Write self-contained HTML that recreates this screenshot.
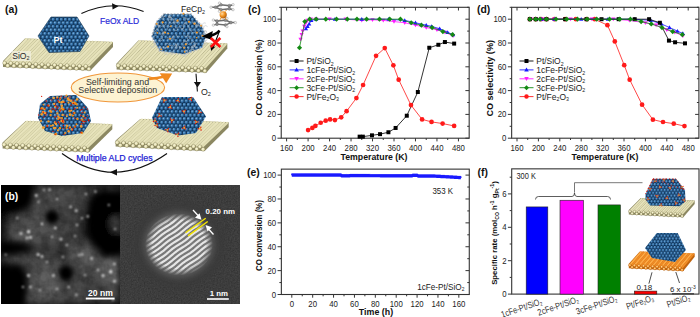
<!DOCTYPE html>
<html><head><meta charset="utf-8"><style>
html,body{margin:0;padding:0;background:#fff;}
body{width:700px;height:317px;overflow:hidden;}
svg{display:block;font-family:"Liberation Sans",sans-serif;}
</style></head><body>
<svg width="700" height="317" viewBox="0 0 700 317">
<defs>
<radialGradient id="gsph" cx="0.35" cy="0.35" r="0.7">
 <stop offset="0" stop-color="#a0cdf0"/><stop offset="0.35" stop-color="#3f80ba"/><stop offset="0.8" stop-color="#1d4f80"/><stop offset="1" stop-color="#0f3055"/>
</radialGradient>
<pattern id="psph" patternUnits="userSpaceOnUse" width="4.1" height="7.1">
 <rect width="4.1" height="7.1" fill="#0c2640"/>
 <circle cx="2.05" cy="1.78" r="1.95" fill="url(#gsph)"/>
 <circle cx="0" cy="5.33" r="1.95" fill="url(#gsph)"/>
 <circle cx="4.1" cy="5.33" r="1.95" fill="url(#gsph)"/>
</pattern>
<pattern id="psph2" patternUnits="userSpaceOnUse" width="3.3" height="5.72">
 <rect width="3.3" height="5.72" fill="#0c2640"/>
 <circle cx="1.65" cy="1.43" r="1.55" fill="url(#gsph)"/>
 <circle cx="0" cy="4.29" r="1.55" fill="url(#gsph)"/>
 <circle cx="3.3" cy="4.29" r="1.55" fill="url(#gsph)"/>
</pattern>
<radialGradient id="grod" cx="0.4" cy="0.4" r="0.7">
 <stop offset="0" stop-color="#fbf8dc"/><stop offset="0.6" stop-color="#e4dfb0"/><stop offset="1" stop-color="#a9a376"/>
</radialGradient>
<radialGradient id="grodo" cx="0.4" cy="0.4" r="0.7">
 <stop offset="0" stop-color="#ffe0a8"/><stop offset="0.6" stop-color="#ffa23a"/><stop offset="1" stop-color="#c06a14"/>
</radialGradient>
<radialGradient id="gfe" cx="0.35" cy="0.35" r="0.7">
 <stop offset="0" stop-color="#ffd9a0"/><stop offset="0.5" stop-color="#f3931e"/><stop offset="1" stop-color="#a85a10"/>
</radialGradient>
<marker id="ahR" viewBox="0 0 10 10" refX="5" refY="5" markerWidth="6" markerHeight="6" orient="auto"><path d="M0 0L10 5L0 10Z" fill="#111"/></marker>

<filter id="blur3" x="-30%" y="-30%" width="160%" height="160%"><feGaussianBlur stdDeviation="3"/></filter>
<filter id="blur4" x="-10%" y="-10%" width="120%" height="120%"><feGaussianBlur stdDeviation="4.2"/></filter>
<filter id="blur1" x="-50%" y="-50%" width="200%" height="200%"><feGaussianBlur stdDeviation="0.85"/></filter>
<filter id="blur2" x="-30%" y="-30%" width="160%" height="160%"><feGaussianBlur stdDeviation="2"/></filter>
<filter id="noise" x="0" y="0" width="100%" height="100%">
 <feTurbulence type="fractalNoise" baseFrequency="0.7" numOctaves="2" seed="4" result="t"/>
 <feColorMatrix type="matrix" values="0 0 0 0 0.5  0 0 0 0 0.5  0 0 0 0 0.5  0.6 0 0 0 0" in="t" result="n"/>
 <feComposite in="n" in2="SourceGraphic" operator="in"/>
</filter>
<clipPath id="cbL"><rect x="1" y="185" width="119" height="119"/></clipPath>
<clipPath id="cbR"><rect x="120" y="185" width="120" height="119"/></clipPath>
<radialGradient id="gmask" cx="0.5" cy="0.5" r="0.5">
 <stop offset="0" stop-color="#fff"/><stop offset="0.78" stop-color="#fff"/><stop offset="1" stop-color="#000"/>
</radialGradient>
<mask id="mpart" maskUnits="userSpaceOnUse" x="130" y="200" width="100" height="100"><ellipse cx="179" cy="244.5" rx="34" ry="31" fill="url(#gmask)"/></mask>
<filter id="blurp" x="-20%" y="-20%" width="140%" height="140%"><feGaussianBlur stdDeviation="0.75"/></filter>
<filter id="tex" x="0" y="0" width="100%" height="100%">
 <feTurbulence type="fractalNoise" baseFrequency="0.12" numOctaves="3" seed="9" result="t"/>
 <feColorMatrix type="matrix" values="0 0 0 0 0  0 0 0 0 0  0 0 0 0 0  0 0 0 -1.1 0.75" in="t" result="n"/>
 <feComposite in="n" in2="SourceGraphic" operator="in"/>
</filter>
</defs>
<text x="5" y="13.2" font-size="10.4" font-weight="bold" fill="#111">(a)</text>
<polygon points="25,38.5 113,42 113,47 90.5,70.5 3,67 3,61" fill="#8c8862"/>
<path d="M7.69 62.19L29.71 39.29 M13.94 62.44L36 39.54 M20.19 62.69L42.29 39.79 M26.44 62.94L48.57 40.04 M32.69 63.19L54.86 40.29 M38.94 63.44L61.14 40.54 M45.19 63.69L67.43 40.79 M51.44 63.94L73.71 41.04 M57.69 64.19L80 41.29 M63.94 64.44L86.29 41.54 M70.19 64.69L92.57 41.79 M76.44 64.94L98.86 42.04 M82.69 65.19L105.14 42.29 M88.94 65.44L111.43 42.54" stroke="#e2deb4" stroke-width="2.28" stroke-linecap="round" fill="none"/>
<path d="M4.56 62.06L26.57 39.16 M10.81 62.31L32.86 39.41 M17.06 62.56L39.14 39.66 M23.31 62.81L45.43 39.91 M29.56 63.06L51.71 40.16 M35.81 63.31L58 40.41 M42.06 63.56L64.29 40.66 M48.31 63.81L70.57 40.91 M54.56 64.06L76.86 41.16 M60.81 64.31L83.14 41.41 M67.06 64.56L89.43 41.66 M73.31 64.81L95.71 41.91 M79.56 65.06L102 42.16 M85.81 65.31L108.29 42.41" stroke="#e8e4bc" stroke-width="2.4" stroke-linecap="round" fill="none"/>
<circle cx="4.56" cy="63.01" r="1.95" fill="url(#grod)" stroke="#6f6a48" stroke-width="0.3"/><circle cx="7.69" cy="65.63" r="1.99" fill="url(#grod)" stroke="#6f6a48" stroke-width="0.3"/><circle cx="10.81" cy="63.26" r="1.95" fill="url(#grod)" stroke="#6f6a48" stroke-width="0.3"/><circle cx="13.94" cy="65.88" r="1.99" fill="url(#grod)" stroke="#6f6a48" stroke-width="0.3"/><circle cx="17.06" cy="63.51" r="1.95" fill="url(#grod)" stroke="#6f6a48" stroke-width="0.3"/><circle cx="20.19" cy="66.13" r="1.99" fill="url(#grod)" stroke="#6f6a48" stroke-width="0.3"/><circle cx="23.31" cy="63.76" r="1.95" fill="url(#grod)" stroke="#6f6a48" stroke-width="0.3"/><circle cx="26.44" cy="66.38" r="1.99" fill="url(#grod)" stroke="#6f6a48" stroke-width="0.3"/><circle cx="29.56" cy="64.01" r="1.95" fill="url(#grod)" stroke="#6f6a48" stroke-width="0.3"/><circle cx="32.69" cy="66.63" r="1.99" fill="url(#grod)" stroke="#6f6a48" stroke-width="0.3"/><circle cx="35.81" cy="64.26" r="1.95" fill="url(#grod)" stroke="#6f6a48" stroke-width="0.3"/><circle cx="38.94" cy="66.88" r="1.99" fill="url(#grod)" stroke="#6f6a48" stroke-width="0.3"/><circle cx="42.06" cy="64.51" r="1.95" fill="url(#grod)" stroke="#6f6a48" stroke-width="0.3"/><circle cx="45.19" cy="67.13" r="1.99" fill="url(#grod)" stroke="#6f6a48" stroke-width="0.3"/><circle cx="48.31" cy="64.76" r="1.95" fill="url(#grod)" stroke="#6f6a48" stroke-width="0.3"/><circle cx="51.44" cy="67.38" r="1.99" fill="url(#grod)" stroke="#6f6a48" stroke-width="0.3"/><circle cx="54.56" cy="65.01" r="1.95" fill="url(#grod)" stroke="#6f6a48" stroke-width="0.3"/><circle cx="57.69" cy="67.63" r="1.99" fill="url(#grod)" stroke="#6f6a48" stroke-width="0.3"/><circle cx="60.81" cy="65.26" r="1.95" fill="url(#grod)" stroke="#6f6a48" stroke-width="0.3"/><circle cx="63.94" cy="67.88" r="1.99" fill="url(#grod)" stroke="#6f6a48" stroke-width="0.3"/><circle cx="67.06" cy="65.51" r="1.95" fill="url(#grod)" stroke="#6f6a48" stroke-width="0.3"/><circle cx="70.19" cy="68.13" r="1.99" fill="url(#grod)" stroke="#6f6a48" stroke-width="0.3"/><circle cx="73.31" cy="65.76" r="1.95" fill="url(#grod)" stroke="#6f6a48" stroke-width="0.3"/><circle cx="76.44" cy="68.38" r="1.99" fill="url(#grod)" stroke="#6f6a48" stroke-width="0.3"/><circle cx="79.56" cy="66.01" r="1.95" fill="url(#grod)" stroke="#6f6a48" stroke-width="0.3"/><circle cx="82.69" cy="68.63" r="1.99" fill="url(#grod)" stroke="#6f6a48" stroke-width="0.3"/><circle cx="85.81" cy="66.26" r="1.95" fill="url(#grod)" stroke="#6f6a48" stroke-width="0.3"/><circle cx="88.94" cy="68.88" r="1.99" fill="url(#grod)" stroke="#6f6a48" stroke-width="0.3"/>
<polygon points="138.4,40.4 227.3,43.6 227.3,48.6 206.5,72.5 116.6,69.5 116.6,63.5" fill="#8c8862"/>
<path d="M121.42 64.66L143.16 41.17 M127.84 64.88L149.51 41.4 M134.26 65.09L155.86 41.63 M140.68 65.3L162.21 41.86 M147.1 65.52L168.56 42.09 M153.52 65.73L174.91 42.31 M159.94 65.95L181.26 42.54 M166.37 66.16L187.61 42.77 M172.79 66.38L193.96 43 M179.21 66.59L200.31 43.23 M185.63 66.8L206.66 43.46 M192.05 67.02L213.01 43.69 M198.47 67.23L219.36 43.91 M204.89 67.45L225.71 44.14" stroke="#e2deb4" stroke-width="2.28" stroke-linecap="round" fill="none"/>
<path d="M118.21 64.55L139.99 41.06 M124.63 64.77L146.34 41.29 M131.05 64.98L152.69 41.51 M137.47 65.2L159.04 41.74 M143.89 65.41L165.39 41.97 M150.31 65.62L171.74 42.2 M156.73 65.84L178.09 42.43 M163.16 66.05L184.44 42.66 M169.58 66.27L190.79 42.89 M176 66.48L197.14 43.11 M182.42 66.7L203.49 43.34 M188.84 66.91L209.84 43.57 M195.26 67.12L216.19 43.8 M201.68 67.34L222.54 44.03" stroke="#e8e4bc" stroke-width="2.4" stroke-linecap="round" fill="none"/>
<circle cx="118.21" cy="65.5" r="1.95" fill="url(#grod)" stroke="#6f6a48" stroke-width="0.3"/><circle cx="121.42" cy="68.1" r="1.99" fill="url(#grod)" stroke="#6f6a48" stroke-width="0.3"/><circle cx="124.63" cy="65.72" r="1.95" fill="url(#grod)" stroke="#6f6a48" stroke-width="0.3"/><circle cx="127.84" cy="68.31" r="1.99" fill="url(#grod)" stroke="#6f6a48" stroke-width="0.3"/><circle cx="131.05" cy="65.93" r="1.95" fill="url(#grod)" stroke="#6f6a48" stroke-width="0.3"/><circle cx="134.26" cy="68.53" r="1.99" fill="url(#grod)" stroke="#6f6a48" stroke-width="0.3"/><circle cx="137.47" cy="66.15" r="1.95" fill="url(#grod)" stroke="#6f6a48" stroke-width="0.3"/><circle cx="140.68" cy="68.74" r="1.99" fill="url(#grod)" stroke="#6f6a48" stroke-width="0.3"/><circle cx="143.89" cy="66.36" r="1.95" fill="url(#grod)" stroke="#6f6a48" stroke-width="0.3"/><circle cx="147.1" cy="68.96" r="1.99" fill="url(#grod)" stroke="#6f6a48" stroke-width="0.3"/><circle cx="150.31" cy="66.58" r="1.95" fill="url(#grod)" stroke="#6f6a48" stroke-width="0.3"/><circle cx="153.52" cy="69.17" r="1.99" fill="url(#grod)" stroke="#6f6a48" stroke-width="0.3"/><circle cx="156.73" cy="66.79" r="1.95" fill="url(#grod)" stroke="#6f6a48" stroke-width="0.3"/><circle cx="159.94" cy="69.39" r="1.99" fill="url(#grod)" stroke="#6f6a48" stroke-width="0.3"/><circle cx="163.16" cy="67" r="1.95" fill="url(#grod)" stroke="#6f6a48" stroke-width="0.3"/><circle cx="166.37" cy="69.6" r="1.99" fill="url(#grod)" stroke="#6f6a48" stroke-width="0.3"/><circle cx="169.58" cy="67.22" r="1.95" fill="url(#grod)" stroke="#6f6a48" stroke-width="0.3"/><circle cx="172.79" cy="69.81" r="1.99" fill="url(#grod)" stroke="#6f6a48" stroke-width="0.3"/><circle cx="176" cy="67.43" r="1.95" fill="url(#grod)" stroke="#6f6a48" stroke-width="0.3"/><circle cx="179.21" cy="70.03" r="1.99" fill="url(#grod)" stroke="#6f6a48" stroke-width="0.3"/><circle cx="182.42" cy="67.65" r="1.95" fill="url(#grod)" stroke="#6f6a48" stroke-width="0.3"/><circle cx="185.63" cy="70.24" r="1.99" fill="url(#grod)" stroke="#6f6a48" stroke-width="0.3"/><circle cx="188.84" cy="67.86" r="1.95" fill="url(#grod)" stroke="#6f6a48" stroke-width="0.3"/><circle cx="192.05" cy="70.46" r="1.99" fill="url(#grod)" stroke="#6f6a48" stroke-width="0.3"/><circle cx="195.26" cy="68.08" r="1.95" fill="url(#grod)" stroke="#6f6a48" stroke-width="0.3"/><circle cx="198.47" cy="70.67" r="1.99" fill="url(#grod)" stroke="#6f6a48" stroke-width="0.3"/><circle cx="201.68" cy="68.29" r="1.95" fill="url(#grod)" stroke="#6f6a48" stroke-width="0.3"/><circle cx="204.89" cy="70.89" r="1.99" fill="url(#grod)" stroke="#6f6a48" stroke-width="0.3"/>
<polygon points="25.7,121 112.3,124.3 112.3,129.3 89.1,152.1 2.6,148.6 2.6,142.6" fill="#8c8862"/>
<path d="M7.23 143.79L30.34 121.78 M13.41 144.04L36.52 122.01 M19.59 144.29L42.71 122.25 M25.77 144.54L48.9 122.48 M31.95 144.79L55.08 122.72 M38.13 145.04L61.27 122.96 M44.31 145.29L67.45 123.19 M50.48 145.54L73.64 123.43 M56.66 145.79L79.83 123.66 M62.84 146.04L86.01 123.9 M69.02 146.29L92.2 124.13 M75.2 146.54L98.38 124.37 M81.38 146.79L104.57 124.61 M87.56 147.04L110.75 124.84" stroke="#e2deb4" stroke-width="2.28" stroke-linecap="round" fill="none"/>
<path d="M4.14 143.66L27.25 121.66 M10.32 143.91L33.43 121.89 M16.5 144.16L39.62 122.13 M22.68 144.41L45.8 122.37 M28.86 144.66L51.99 122.6 M35.04 144.91L58.17 122.84 M41.22 145.16L64.36 123.07 M47.39 145.41L70.55 123.31 M53.57 145.66L76.73 123.54 M59.75 145.91L82.92 123.78 M65.93 146.16L89.1 124.02 M72.11 146.41L95.29 124.25 M78.29 146.66L101.47 124.49 M84.47 146.91L107.66 124.72" stroke="#e8e4bc" stroke-width="2.4" stroke-linecap="round" fill="none"/>
<circle cx="4.14" cy="144.61" r="1.95" fill="url(#grod)" stroke="#6f6a48" stroke-width="0.3"/><circle cx="7.23" cy="147.23" r="1.99" fill="url(#grod)" stroke="#6f6a48" stroke-width="0.3"/><circle cx="10.32" cy="144.86" r="1.95" fill="url(#grod)" stroke="#6f6a48" stroke-width="0.3"/><circle cx="13.41" cy="147.48" r="1.99" fill="url(#grod)" stroke="#6f6a48" stroke-width="0.3"/><circle cx="16.5" cy="145.11" r="1.95" fill="url(#grod)" stroke="#6f6a48" stroke-width="0.3"/><circle cx="19.59" cy="147.73" r="1.99" fill="url(#grod)" stroke="#6f6a48" stroke-width="0.3"/><circle cx="22.68" cy="145.36" r="1.95" fill="url(#grod)" stroke="#6f6a48" stroke-width="0.3"/><circle cx="25.77" cy="147.98" r="1.99" fill="url(#grod)" stroke="#6f6a48" stroke-width="0.3"/><circle cx="28.86" cy="145.61" r="1.95" fill="url(#grod)" stroke="#6f6a48" stroke-width="0.3"/><circle cx="31.95" cy="148.23" r="1.99" fill="url(#grod)" stroke="#6f6a48" stroke-width="0.3"/><circle cx="35.04" cy="145.86" r="1.95" fill="url(#grod)" stroke="#6f6a48" stroke-width="0.3"/><circle cx="38.13" cy="148.48" r="1.99" fill="url(#grod)" stroke="#6f6a48" stroke-width="0.3"/><circle cx="41.22" cy="146.11" r="1.95" fill="url(#grod)" stroke="#6f6a48" stroke-width="0.3"/><circle cx="44.31" cy="148.73" r="1.99" fill="url(#grod)" stroke="#6f6a48" stroke-width="0.3"/><circle cx="47.39" cy="146.36" r="1.95" fill="url(#grod)" stroke="#6f6a48" stroke-width="0.3"/><circle cx="50.48" cy="148.98" r="1.99" fill="url(#grod)" stroke="#6f6a48" stroke-width="0.3"/><circle cx="53.57" cy="146.61" r="1.95" fill="url(#grod)" stroke="#6f6a48" stroke-width="0.3"/><circle cx="56.66" cy="149.23" r="1.99" fill="url(#grod)" stroke="#6f6a48" stroke-width="0.3"/><circle cx="59.75" cy="146.86" r="1.95" fill="url(#grod)" stroke="#6f6a48" stroke-width="0.3"/><circle cx="62.84" cy="149.48" r="1.99" fill="url(#grod)" stroke="#6f6a48" stroke-width="0.3"/><circle cx="65.93" cy="147.11" r="1.95" fill="url(#grod)" stroke="#6f6a48" stroke-width="0.3"/><circle cx="69.02" cy="149.73" r="1.99" fill="url(#grod)" stroke="#6f6a48" stroke-width="0.3"/><circle cx="72.11" cy="147.36" r="1.95" fill="url(#grod)" stroke="#6f6a48" stroke-width="0.3"/><circle cx="75.2" cy="149.98" r="1.99" fill="url(#grod)" stroke="#6f6a48" stroke-width="0.3"/><circle cx="78.29" cy="147.61" r="1.95" fill="url(#grod)" stroke="#6f6a48" stroke-width="0.3"/><circle cx="81.38" cy="150.23" r="1.99" fill="url(#grod)" stroke="#6f6a48" stroke-width="0.3"/><circle cx="84.47" cy="147.86" r="1.95" fill="url(#grod)" stroke="#6f6a48" stroke-width="0.3"/><circle cx="87.56" cy="150.48" r="1.99" fill="url(#grod)" stroke="#6f6a48" stroke-width="0.3"/>
<polygon points="140.3,119 228.7,122.3 228.7,127.3 204.7,151 115.6,146.5 115.6,140.5" fill="#8c8862"/>
<path d="M120.37 141.74L145.04 119.78 M126.74 142.06L151.35 120.01 M133.1 142.38L157.66 120.25 M139.47 142.71L163.98 120.48 M145.83 143.03L170.29 120.72 M152.19 143.35L176.61 120.96 M158.56 143.67L182.92 121.19 M164.92 143.99L189.24 121.43 M171.29 144.31L195.55 121.66 M177.65 144.63L201.86 121.9 M184.02 144.96L208.18 122.13 M190.38 145.28L214.49 122.37 M196.74 145.6L220.81 122.61 M203.11 145.92L227.12 122.84" stroke="#e2deb4" stroke-width="2.28" stroke-linecap="round" fill="none"/>
<path d="M117.19 141.58L141.88 119.66 M123.56 141.9L148.19 119.89 M129.92 142.22L154.51 120.13 M136.28 142.54L160.82 120.37 M142.65 142.87L167.14 120.6 M149.01 143.19L173.45 120.84 M155.38 143.51L179.76 121.07 M161.74 143.83L186.08 121.31 M168.11 144.15L192.39 121.54 M174.47 144.47L198.71 121.78 M180.83 144.79L205.02 122.02 M187.2 145.12L211.34 122.25 M193.56 145.44L217.65 122.49 M199.93 145.76L223.96 122.72" stroke="#e8e4bc" stroke-width="2.4" stroke-linecap="round" fill="none"/>
<circle cx="117.19" cy="142.53" r="1.95" fill="url(#grod)" stroke="#6f6a48" stroke-width="0.3"/><circle cx="120.37" cy="145.18" r="1.99" fill="url(#grod)" stroke="#6f6a48" stroke-width="0.3"/><circle cx="123.56" cy="142.85" r="1.95" fill="url(#grod)" stroke="#6f6a48" stroke-width="0.3"/><circle cx="126.74" cy="145.5" r="1.99" fill="url(#grod)" stroke="#6f6a48" stroke-width="0.3"/><circle cx="129.92" cy="143.17" r="1.95" fill="url(#grod)" stroke="#6f6a48" stroke-width="0.3"/><circle cx="133.1" cy="145.82" r="1.99" fill="url(#grod)" stroke="#6f6a48" stroke-width="0.3"/><circle cx="136.28" cy="143.49" r="1.95" fill="url(#grod)" stroke="#6f6a48" stroke-width="0.3"/><circle cx="139.47" cy="146.15" r="1.99" fill="url(#grod)" stroke="#6f6a48" stroke-width="0.3"/><circle cx="142.65" cy="143.82" r="1.95" fill="url(#grod)" stroke="#6f6a48" stroke-width="0.3"/><circle cx="145.83" cy="146.47" r="1.99" fill="url(#grod)" stroke="#6f6a48" stroke-width="0.3"/><circle cx="149.01" cy="144.14" r="1.95" fill="url(#grod)" stroke="#6f6a48" stroke-width="0.3"/><circle cx="152.19" cy="146.79" r="1.99" fill="url(#grod)" stroke="#6f6a48" stroke-width="0.3"/><circle cx="155.38" cy="144.46" r="1.95" fill="url(#grod)" stroke="#6f6a48" stroke-width="0.3"/><circle cx="158.56" cy="147.11" r="1.99" fill="url(#grod)" stroke="#6f6a48" stroke-width="0.3"/><circle cx="161.74" cy="144.78" r="1.95" fill="url(#grod)" stroke="#6f6a48" stroke-width="0.3"/><circle cx="164.92" cy="147.43" r="1.99" fill="url(#grod)" stroke="#6f6a48" stroke-width="0.3"/><circle cx="168.11" cy="145.1" r="1.95" fill="url(#grod)" stroke="#6f6a48" stroke-width="0.3"/><circle cx="171.29" cy="147.75" r="1.99" fill="url(#grod)" stroke="#6f6a48" stroke-width="0.3"/><circle cx="174.47" cy="145.42" r="1.95" fill="url(#grod)" stroke="#6f6a48" stroke-width="0.3"/><circle cx="177.65" cy="148.07" r="1.99" fill="url(#grod)" stroke="#6f6a48" stroke-width="0.3"/><circle cx="180.83" cy="145.74" r="1.95" fill="url(#grod)" stroke="#6f6a48" stroke-width="0.3"/><circle cx="184.02" cy="148.4" r="1.99" fill="url(#grod)" stroke="#6f6a48" stroke-width="0.3"/><circle cx="187.2" cy="146.07" r="1.95" fill="url(#grod)" stroke="#6f6a48" stroke-width="0.3"/><circle cx="190.38" cy="148.72" r="1.99" fill="url(#grod)" stroke="#6f6a48" stroke-width="0.3"/><circle cx="193.56" cy="146.39" r="1.95" fill="url(#grod)" stroke="#6f6a48" stroke-width="0.3"/><circle cx="196.74" cy="149.04" r="1.99" fill="url(#grod)" stroke="#6f6a48" stroke-width="0.3"/><circle cx="199.93" cy="146.71" r="1.95" fill="url(#grod)" stroke="#6f6a48" stroke-width="0.3"/><circle cx="203.11" cy="149.36" r="1.99" fill="url(#grod)" stroke="#6f6a48" stroke-width="0.3"/>
<rect x="11.5" y="51" width="19.5" height="10" fill="#f2f0e0" opacity="0.75"/>
<text x="12.2" y="58.6" font-size="8.6" fill="#2a2a2a">SiO<tspan font-size="5.4" dy="1.8">2</tspan></text>
<polygon points="51,17 77,17 89,36 80,51.5 49,52.5 38,36" fill="url(#psph)" />
<polygon points="51,17 77,17 89,36 80,51.5 49,52.5 38,36" fill="none" stroke="#12324f" stroke-width="0.6"/>
<text x="58" y="43" text-anchor="middle" font-size="9" font-weight="bold" fill="#fff">Pt</text>
<polygon points="164,14.3 191,14.3 201.8,26.5 206,36.4 201.8,47.5 184,54 160,50.8 152,36.4 156.6,22" fill="none" stroke="#b8bec6" stroke-width="2.2" stroke-dasharray="2 1.2" stroke-linejoin="round"/>
<polygon points="164,14.3 191,14.3 201.8,26.5 206,36.4 201.8,47.5 184,54 160,50.8 152,36.4 156.6,22" fill="url(#psph)" />
<path d="M164.33 35.86l-1.75 -1.33l0.29 -2.18l2.03 -0.84 M186.04 15.75l1.14 -1.88l2.2 0.06l1.04 1.94 M177.33 48.13l-1.42 -1.68l0.76 -2.07l2.17 -0.37 M154.59 44.85l-0.69 2.09l-2.16 0.44l-1.45 -1.65 M190.99 51.69l0.69 -2.09l2.15 -0.44l1.46 1.65 M175.43 39.32l-2.2 -0.1l-1.01 -1.95l1.19 -1.85 M183.72 50.98l1.98 -0.96l1.82 1.24l-0.18 2.19 M182.87 42.98l1.07 -1.92l2.2 -0.02l1.11 1.9 M183.12 24.97l1.33 -1.75l2.18 0.28l0.84 2.03 M195.83 30.24l-0.6 2.12l-2.13 0.54l-1.53 -1.58 M194.05 49.66l-1.66 -1.45l0.43 -2.16l2.09 -0.7 M153.52 43.17l1.61 -1.5l2.1 0.65l0.48 2.15 M168.34 16.23l2.16 0.43l0.7 2.09l-1.46 1.64 M162.05 30.13l1.22 1.83l-0.98 1.97l-2.2 0.13 M168.57 53.26l-1.58 1.53l-2.11 -0.61l-0.52 -2.14 M203.67 34.3l-0.41 -2.16l1.67 -1.43l2.07 0.73 M180.18 36.03l-1.89 1.12l-1.91 -1.09l-0.01 -2.2 M183.48 13.84l-1.49 -1.62l0.67 -2.1l2.15 -0.47 M154.36 39.35l-0.95 -1.98l1.25 -1.81l2.19 0.18 M188.86 53.46l-2.12 0.6l-1.57 -1.54l0.55 -2.13 M184.19 26.44l-0.84 2.03l-2.18 0.28l-1.33 -1.75 M171.67 38.02l-1.57 1.54l-2.12 -0.6l-0.53 -2.13 M182.88 43.88l0.38 2.17l-1.69 1.41l-2.06 -0.77 M196.01 23.03l-2.02 0.87l-1.76 -1.32l0.27 -2.18 M190.09 17.28l-1.1 1.9l-2.2 -0.01l-1.09 -1.91 M160.48 27.14l1.65 -1.46l2.09 0.7l0.43 2.16 M176.26 22.45l-2.16 -0.4l-0.73 -2.08l1.44 -1.66 M186.95 46.86l1.51 1.6l-0.64 2.11l-2.14 0.5 M167.35 46.34l-1.25 1.81l-2.19 -0.18l-0.93 -1.99 M188.13 34.8l-1.19 1.85l-2.2 -0.11l-1 -1.96 M201.38 37.23l-0.07 -2.2l1.87 -1.15l1.93 1.05 M160.62 25.6l-2.17 -0.34l-0.79 -2.05l1.39 -1.7 M174.17 52.44l-1.19 1.85l-2.2 -0.11l-0.99 -1.96 M165.14 49.19l0.44 -2.16l2.09 -0.69l1.64 1.47 M170.7 21.29l0.89 -2.01l2.19 -0.23l1.29 1.78 M196.14 47.59l-1.52 -1.59l0.62 -2.11l2.14 -0.51 M166.2 24.28l-1.95 1.03l-1.86 -1.18l0.1 -2.2 M177.48 45.61l2.07 0.74l0.39 2.17l-1.69 1.41 M179.12 26.27l-1.31 1.77l-2.19 -0.25l-0.87 -2.02 M187.23 37.64l0.8 2.05l-1.38 1.71l-2.17 -0.35 M169.41 18.2l-0.47 -2.15l1.63 -1.48l2.09 0.68 M172.29 16.36l-1.54 1.57l-2.13 -0.55l-0.58 -2.12 M184.85 45.87l0.69 -2.09l2.16 -0.44l1.46 1.65 M185.88 31.13l-2.2 0.06l-1.14 -1.88l1.06 -1.93 M176.81 23.29l-0.75 -2.07l1.42 -1.68l2.16 0.4 M155.01 30.85l1.6 -1.51l2.11 0.63l0.5 2.14 M195.29 24.01l1.57 1.54l-0.55 2.13l-2.12 0.58 M182.58 17.33l2.2 0.07l1.04 1.94l-1.17 1.86 M159.04 45.52l1.84 1.2l-0.12 2.2l-1.97 0.99 M204.34 37.32l2.14 0.5l0.64 2.11l-1.51 1.6 M154.42 26.62l1.03 -1.94l2.2 -0.07l1.16 1.87 M164.56 20.55l-1.64 -1.46l0.45 -2.15l2.09 -0.68 M193.2 29.54l-1.75 1.33l-2.03 -0.86l-0.27 -2.18 M170.62 30.57l-2.2 -0l-1.09 -1.91l1.11 -1.9 M205.49 30.34l1.17 1.86l-1.03 1.94l-2.2 0.07 M156.37 44.42l-2.19 -0.23l-0.89 -2.01l1.31 -1.77 M175.81 43.19l-0.24 2.19l-2.02 0.88l-1.77 -1.31 M162.15 37.6l0.25 2.19l-1.77 1.3l-2.01 -0.89 M189.7 53.04l-0.61 -2.11l1.53 -1.58l2.13 0.54 M174.14 48.85l-0.24 2.19l-2.01 0.88l-1.77 -1.31 M177.85 29.08l-1.41 1.69l-2.17 -0.38l-0.75 -2.07 M169.03 45.52l2.2 -0.13l1.2 1.84l-1 1.96 M197.74 47.51l-2.18 0.26l-1.31 -1.76l0.88 -2.02 M191.36 48.98l-0.23 -2.19l1.78 -1.29l2.01 0.9 M204.77 32.63l0.21 2.19l-1.79 1.27l-2 -0.92 M198.82 23.17l-0.12 2.2l-1.96 0.99l-1.84 -1.21 M201.39 23.71l-0.85 2.03l-2.18 0.27l-1.32 -1.76 M174.7 43.62l1.84 1.21l-0.13 2.2l-1.97 0.98 M197.7 25.25l-1.93 -1.06l-0.04 -2.2l1.89 -1.13 M172.89 35.86l-0.34 2.17l-2.05 0.79l-1.71 -1.39 M203.71 28.72l0.1 -2.2l1.95 -1.01l1.85 1.19 M204.83 41.26l1.67 1.44l-0.42 2.16l-2.08 0.71 M189 36.79l-1.34 -1.74l0.84 -2.03l2.18 -0.28 M158.92 26.92l-1.8 -1.26l0.2 -2.19l2 -0.92 M168.5 20.41l-0.47 -2.15l1.63 -1.48l2.09 0.68 M171.12 24.17l1.53 -1.58l2.13 0.54l0.6 2.12 M153.36 34.2l0.26 -2.19l2.02 -0.87l1.76 1.32 M170.83 26.98l-2.13 -0.56l-0.57 -2.13l1.56 -1.55 M157.28 24.36l1.67 1.43l-0.41 2.16l-2.08 0.72 M194.62 43.55l0.82 2.04l-1.36 1.73l-2.18 -0.32 M192.93 37.86l-1.77 1.31l-2.02 -0.88l-0.24 -2.19 M161.84 35.16l0.65 2.1l-1.5 1.61l-2.14 -0.5 M165.01 45.83l0.72 -2.08l2.16 -0.41l1.43 1.67 M186.48 54.03l-0.67 2.1l-2.15 0.46l-1.47 -1.64 M199.16 33.33l-0.32 -2.18l1.73 -1.36l2.04 0.82 M176.79 21.12l2.14 0.51l0.62 2.11l-1.52 1.59 M158.59 46.28l2.09 0.69l0.44 2.15l-1.65 1.46 M171.15 22.8l-2.14 -0.53l-0.6 -2.12l1.53 -1.58 M203.07 26.57l-0.75 -2.07l1.42 -1.68l2.16 0.39 M158.52 49.05l1.97 -0.98l1.83 1.22l-0.15 2.2 M191.09 44.07l0.76 -2.06l2.17 -0.37l1.4 1.7 M175.47 44.79l1.7 1.39l-0.36 2.17l-2.06 0.77 M162.22 19.75l-0.69 -2.09l1.47 -1.64l2.15 0.45 M191.3 28.41l-2.16 -0.4l-0.73 -2.08l1.44 -1.67 M184.4 22.4l0.56 2.13l-1.57 1.55l-2.12 -0.59" stroke="#b4bac0" stroke-width="0.5" fill="none"/>
<circle cx="185.88" cy="44.23" r="1.09" fill="#f39a2c"/><circle cx="194.45" cy="23.69" r="1.12" fill="#f39a2c"/><circle cx="157.34" cy="32.86" r="0.93" fill="#f39a2c"/><circle cx="156.71" cy="23.7" r="0.94" fill="#f39a2c"/><circle cx="161.2" cy="49.47" r="0.86" fill="#f39a2c"/><circle cx="162.73" cy="22.29" r="1.11" fill="#f39a2c"/><circle cx="188.96" cy="21.84" r="1.14" fill="#f39a2c"/><circle cx="201.05" cy="25.76" r="0.95" fill="#f39a2c"/><circle cx="196.77" cy="37.74" r="0.82" fill="#f39a2c"/><circle cx="170.9" cy="26.06" r="0.86" fill="#f39a2c"/><circle cx="177.46" cy="20.64" r="1.14" fill="#f39a2c"/><circle cx="183.4" cy="13.68" r="1.02" fill="#f39a2c"/><circle cx="196.89" cy="32.57" r="1.11" fill="#f39a2c"/><circle cx="165.05" cy="32.6" r="1.1" fill="#f39a2c"/><circle cx="170.08" cy="38.77" r="0.92" fill="#f39a2c"/><circle cx="202.76" cy="36.03" r="1.04" fill="#f39a2c"/><circle cx="168.15" cy="46.61" r="1.05" fill="#f39a2c"/><circle cx="168.32" cy="33.47" r="0.83" fill="#f39a2c"/><circle cx="184.64" cy="51.81" r="0.88" fill="#f39a2c"/><circle cx="184.26" cy="47.76" r="1.03" fill="#f39a2c"/>
<text x="181" y="12" font-size="8.6" fill="#222">FeCp<tspan font-size="5.4" dy="2">2</tspan></text>
<path d="M220.85 9.67 L215.6 7.2 L220.85 4.73 L229.35 5.67 L229.35 8.73Z M220.85 9.67L219.43 11.29 M215.6 7.2L211 7.2 M220.85 4.73L219.43 3.11 M229.35 5.67L233.07 4.67 M229.35 8.73L233.07 9.73" stroke="#6e6e6e" stroke-width="1.5" fill="none"/><circle cx="220.85" cy="4.73" r="1.5" fill="#8c8c8c" stroke="#555" stroke-width="0.3"/><circle cx="229.35" cy="5.67" r="1.5" fill="#8c8c8c" stroke="#555" stroke-width="0.3"/><circle cx="215.6" cy="7.2" r="1.5" fill="#8c8c8c" stroke="#555" stroke-width="0.3"/><circle cx="229.35" cy="8.73" r="1.5" fill="#8c8c8c" stroke="#555" stroke-width="0.3"/><circle cx="220.85" cy="9.67" r="1.5" fill="#8c8c8c" stroke="#555" stroke-width="0.3"/><circle cx="219.43" cy="11.29" r="1.2" fill="#f4f4f4" stroke="#8a8a8a" stroke-width="0.4"/><circle cx="211" cy="7.2" r="1.2" fill="#f4f4f4" stroke="#8a8a8a" stroke-width="0.4"/><circle cx="219.43" cy="3.11" r="1.2" fill="#f4f4f4" stroke="#8a8a8a" stroke-width="0.4"/><circle cx="233.07" cy="4.67" r="1.2" fill="#f4f4f4" stroke="#8a8a8a" stroke-width="0.4"/><circle cx="233.07" cy="9.73" r="1.2" fill="#f4f4f4" stroke="#8a8a8a" stroke-width="0.4"/><path d="M225.55 25.07 L217.05 24.13 L217.05 21.07 L225.55 20.13 L230.8 22.6Z M225.55 25.07L226.97 26.69 M217.05 24.13L213.33 25.13 M217.05 21.07L213.33 20.07 M225.55 20.13L226.97 18.51 M230.8 22.6L235.4 22.6" stroke="#6e6e6e" stroke-width="1.5" fill="none"/><circle cx="225.55" cy="20.13" r="1.5" fill="#8c8c8c" stroke="#555" stroke-width="0.3"/><circle cx="217.05" cy="21.07" r="1.5" fill="#8c8c8c" stroke="#555" stroke-width="0.3"/><circle cx="230.8" cy="22.6" r="1.5" fill="#8c8c8c" stroke="#555" stroke-width="0.3"/><circle cx="217.05" cy="24.13" r="1.5" fill="#8c8c8c" stroke="#555" stroke-width="0.3"/><circle cx="225.55" cy="25.07" r="1.5" fill="#8c8c8c" stroke="#555" stroke-width="0.3"/><circle cx="226.97" cy="26.69" r="1.2" fill="#f4f4f4" stroke="#8a8a8a" stroke-width="0.4"/><circle cx="213.33" cy="25.13" r="1.2" fill="#f4f4f4" stroke="#8a8a8a" stroke-width="0.4"/><circle cx="213.33" cy="20.07" r="1.2" fill="#f4f4f4" stroke="#8a8a8a" stroke-width="0.4"/><circle cx="226.97" cy="18.51" r="1.2" fill="#f4f4f4" stroke="#8a8a8a" stroke-width="0.4"/><circle cx="235.4" cy="22.6" r="1.2" fill="#f4f4f4" stroke="#8a8a8a" stroke-width="0.4"/>
<path d="M221 11.5 L220 10 M225.4 11.5 L226.4 10 M221 18 L220 19.8 M225.4 18 L226.4 19.8" stroke="#e08a20" stroke-width="1"/>
<circle cx="223.2" cy="14.8" r="3.6" fill="url(#gfe)"/>
<path d="M219.5 30.5 C217 34 213 35 209 36.2" stroke="#000" stroke-width="2.6" fill="none"/>
<path d="M201.8 36.5 L212.8 31 L211.5 39.7 Z" fill="#000"/>
<path d="M219.5 31 L213 48" stroke="#000" stroke-width="1.1" fill="none"/>
<path d="M211 51 L210.5 45.5 L215 47 Z" fill="#000"/>
<path d="M210.8 38 L220.4 47 M220.4 38 L210.8 47" stroke="#ff1010" stroke-width="2.6"/>
<polygon points="50,96 76,95 88,108 91,121 83,133 62,136 45,131 38,118 40,104" fill="url(#psph)" />
<circle cx="61.88" cy="118.07" r="1.15" fill="#f08a10"/><circle cx="63.17" cy="120.4" r="1" fill="#f39a2c"/><circle cx="53.69" cy="97.9" r="1.23" fill="#f5a030"/><circle cx="69.75" cy="111.03" r="1.23" fill="#f08a10"/><circle cx="70.86" cy="100.77" r="1.31" fill="#f39a2c"/><circle cx="69.98" cy="127.46" r="1.15" fill="#f08a10"/><circle cx="83.33" cy="116.32" r="1.08" fill="#f5a030"/><circle cx="59.37" cy="117.7" r="1.26" fill="#f39a2c"/><circle cx="54.34" cy="103.88" r="0.97" fill="#f08a10"/><circle cx="67.97" cy="98.64" r="1.32" fill="#f39a2c"/><circle cx="41.02" cy="121.07" r="1.07" fill="#f5a030"/><circle cx="41.79" cy="108.3" r="1.28" fill="#f08a10"/><circle cx="43.49" cy="104.59" r="0.96" fill="#f39a2c"/><circle cx="62.57" cy="114.93" r="1.19" fill="#f5a030"/><circle cx="61.61" cy="102.2" r="1.28" fill="#f5a030"/><circle cx="60.06" cy="110.5" r="1.14" fill="#f08a10"/><circle cx="48.71" cy="105.6" r="1.09" fill="#f5a030"/><circle cx="83.99" cy="121.6" r="0.98" fill="#f39a2c"/><circle cx="45.05" cy="112.99" r="1.28" fill="#f39a2c"/><circle cx="55.09" cy="106.74" r="0.99" fill="#f39a2c"/><circle cx="48.48" cy="121.37" r="1.21" fill="#f39a2c"/><circle cx="57.44" cy="113.49" r="1.16" fill="#f5a030"/><circle cx="68.6" cy="131.26" r="1.22" fill="#f39a2c"/><circle cx="54.09" cy="103.82" r="1.06" fill="#f5a030"/><circle cx="47.44" cy="125.8" r="1.04" fill="#f5a030"/><circle cx="60.18" cy="98.47" r="1.18" fill="#f39a2c"/><circle cx="51.03" cy="125.81" r="1.07" fill="#f08a10"/><circle cx="82.3" cy="119.65" r="1.18" fill="#f08a10"/><circle cx="63.36" cy="122.1" r="1.22" fill="#f5a030"/><circle cx="68.47" cy="99.66" r="1.02" fill="#f08a10"/><circle cx="61.77" cy="108.23" r="1.25" fill="#f5a030"/><circle cx="69.14" cy="100.03" r="1.35" fill="#f39a2c"/><circle cx="63.11" cy="109.37" r="1.36" fill="#f08a10"/><circle cx="77.18" cy="107.71" r="0.99" fill="#f39a2c"/><circle cx="67.04" cy="125.69" r="1.27" fill="#f5a030"/><circle cx="41.67" cy="114.35" r="1.33" fill="#f39a2c"/><circle cx="59.94" cy="127.99" r="1.2" fill="#f08a10"/><circle cx="71.37" cy="110.44" r="0.97" fill="#f5a030"/><circle cx="51.15" cy="111.9" r="1.12" fill="#f08a10"/><circle cx="77.43" cy="118.98" r="1.15" fill="#f08a10"/><circle cx="66.77" cy="116.3" r="0.97" fill="#f5a030"/><circle cx="70.07" cy="114.68" r="1.36" fill="#f39a2c"/><circle cx="43.21" cy="127.54" r="1.35" fill="#f5a030"/><circle cx="74.3" cy="102.71" r="1.28" fill="#f39a2c"/><circle cx="55.84" cy="134" r="1.33" fill="#f08a10"/><circle cx="54.98" cy="122.63" r="1.23" fill="#f39a2c"/><circle cx="81.2" cy="126.45" r="1.33" fill="#f39a2c"/><circle cx="58.14" cy="119.07" r="1.05" fill="#f08a10"/><circle cx="44.4" cy="109.08" r="1.26" fill="#f39a2c"/><circle cx="61.79" cy="105.83" r="1.31" fill="#f39a2c"/><circle cx="58.04" cy="116.36" r="1.09" fill="#f5a030"/><circle cx="54" cy="128.04" r="1.23" fill="#f39a2c"/><circle cx="59.29" cy="102.17" r="1.06" fill="#f08a10"/><circle cx="61.56" cy="121.09" r="1.23" fill="#f5a030"/><circle cx="57.28" cy="97.35" r="1.04" fill="#f39a2c"/><circle cx="63.13" cy="101.68" r="1.28" fill="#f39a2c"/><circle cx="66.42" cy="95.56" r="1.07" fill="#f39a2c"/><circle cx="56.02" cy="123.98" r="1.17" fill="#f5a030"/><circle cx="75.49" cy="103.63" r="1.35" fill="#f08a10"/><circle cx="76.73" cy="99.59" r="1.04" fill="#f08a10"/><circle cx="72.9" cy="115.61" r="1.15" fill="#f08a10"/><circle cx="72.82" cy="102.81" r="1.32" fill="#f5a030"/><circle cx="50.33" cy="110.78" r="1.37" fill="#f39a2c"/><circle cx="66.53" cy="128" r="1.07" fill="#f08a10"/><circle cx="84.72" cy="112.44" r="1.03" fill="#f39a2c"/><circle cx="55.43" cy="127.88" r="1.16" fill="#f39a2c"/><circle cx="74.28" cy="112.93" r="1.2" fill="#f08a10"/><circle cx="74.9" cy="126.59" r="1.18" fill="#f08a10"/><circle cx="52.96" cy="125.34" r="1.03" fill="#f5a030"/><circle cx="65.28" cy="133.01" r="1.09" fill="#f08a10"/><circle cx="57.97" cy="130.35" r="1.05" fill="#f5a030"/><circle cx="68.51" cy="102.64" r="1.01" fill="#f5a030"/><circle cx="50.55" cy="115.2" r="1.14" fill="#f08a10"/><circle cx="81.86" cy="132.72" r="1.18" fill="#f08a10"/><circle cx="42.97" cy="112.04" r="1.35" fill="#f39a2c"/><circle cx="44.12" cy="127.51" r="0.97" fill="#f39a2c"/><circle cx="76.8" cy="104.51" r="1" fill="#f08a10"/><circle cx="77.2" cy="99.28" r="1.22" fill="#f5a030"/><circle cx="76.47" cy="124.16" r="0.97" fill="#f08a10"/><circle cx="71.82" cy="129.48" r="1.03" fill="#f5a030"/>
<circle cx="63.1" cy="122.27" r="0.64" fill="#d01808"/><circle cx="81.57" cy="123.7" r="0.75" fill="#e0200a"/><circle cx="73.37" cy="100.25" r="0.7" fill="#d01808"/><circle cx="55.68" cy="103.04" r="0.62" fill="#e0200a"/><circle cx="74.78" cy="108.49" r="0.81" fill="#d01808"/><circle cx="73.41" cy="103.6" r="0.85" fill="#d01808"/><circle cx="43.19" cy="112.2" r="0.74" fill="#e0200a"/><circle cx="85.51" cy="118" r="0.75" fill="#e0200a"/><circle cx="64.9" cy="97.59" r="0.78" fill="#d01808"/><circle cx="62.83" cy="120.2" r="0.77" fill="#e0200a"/><circle cx="58.21" cy="107.33" r="0.66" fill="#d01808"/><circle cx="56.98" cy="115.99" r="0.61" fill="#e0200a"/><circle cx="82.24" cy="112.5" r="0.66" fill="#e0200a"/><circle cx="60.5" cy="110.69" r="0.8" fill="#e0200a"/><circle cx="49.14" cy="97.35" r="0.61" fill="#d01808"/><circle cx="52.21" cy="108.8" r="0.73" fill="#e0200a"/><circle cx="57.26" cy="108.61" r="0.73" fill="#d01808"/><circle cx="47.41" cy="126.19" r="0.85" fill="#e0200a"/><circle cx="80.72" cy="115.56" r="0.76" fill="#e0200a"/><circle cx="82.76" cy="121.49" r="0.81" fill="#e0200a"/><circle cx="64.62" cy="115.06" r="0.67" fill="#d01808"/><circle cx="53.02" cy="131.55" r="0.69" fill="#d01808"/><circle cx="84.42" cy="121.53" r="0.78" fill="#d01808"/><circle cx="48.77" cy="106.26" r="0.61" fill="#d01808"/><circle cx="51.62" cy="99.95" r="0.71" fill="#e0200a"/><circle cx="59.97" cy="119.3" r="0.81" fill="#d01808"/><circle cx="68.91" cy="108.94" r="0.77" fill="#d01808"/><circle cx="58.18" cy="100.92" r="0.84" fill="#e0200a"/><circle cx="80.88" cy="132.59" r="0.74" fill="#d01808"/><circle cx="80.4" cy="110.32" r="0.79" fill="#e0200a"/><circle cx="47.39" cy="105.64" r="0.76" fill="#d01808"/><circle cx="43.86" cy="116.97" r="0.75" fill="#d01808"/><circle cx="40.95" cy="109.3" r="0.78" fill="#e0200a"/><circle cx="75.27" cy="126.66" r="0.7" fill="#d01808"/><circle cx="38.64" cy="114.98" r="0.73" fill="#d01808"/><circle cx="40.12" cy="119.55" r="0.66" fill="#d01808"/><circle cx="55.01" cy="134.58" r="0.7" fill="#d01808"/><circle cx="83.68" cy="123.6" r="0.66" fill="#d01808"/><circle cx="87.54" cy="115.54" r="0.64" fill="#d01808"/><circle cx="62.55" cy="120.08" r="0.72" fill="#e0200a"/><circle cx="59.41" cy="124.05" r="0.74" fill="#d01808"/><circle cx="61.2" cy="96.25" r="0.75" fill="#e0200a"/><circle cx="74.44" cy="109.06" r="0.68" fill="#e0200a"/><circle cx="64.49" cy="109.52" r="0.64" fill="#d01808"/><circle cx="63.24" cy="128.44" r="0.67" fill="#e0200a"/><circle cx="88.49" cy="119.75" r="0.81" fill="#d01808"/><circle cx="80.42" cy="120.11" r="0.63" fill="#e0200a"/><circle cx="72.25" cy="130.24" r="0.71" fill="#d01808"/><circle cx="70.98" cy="105.32" r="0.8" fill="#d01808"/><circle cx="64.08" cy="134.42" r="0.64" fill="#e0200a"/><circle cx="48.28" cy="104.95" r="0.74" fill="#d01808"/><circle cx="82.16" cy="109.43" r="0.8" fill="#d01808"/><circle cx="84.24" cy="107.37" r="0.8" fill="#e0200a"/><circle cx="84.27" cy="117.89" r="0.6" fill="#e0200a"/><circle cx="46.41" cy="101.02" r="0.84" fill="#d01808"/><circle cx="64.4" cy="102.61" r="0.74" fill="#e0200a"/><circle cx="72.83" cy="128.43" r="0.77" fill="#d01808"/><circle cx="62.7" cy="121.26" r="0.82" fill="#d01808"/><circle cx="57.15" cy="98.43" r="0.74" fill="#d01808"/><circle cx="87.43" cy="108.98" r="0.63" fill="#e0200a"/><circle cx="41.63" cy="96.43" r="0.61" fill="#e0200a"/><circle cx="74.76" cy="118.29" r="0.76" fill="#e0200a"/><circle cx="69.29" cy="128.55" r="0.72" fill="#e0200a"/><circle cx="55.52" cy="121.95" r="0.81" fill="#d01808"/><circle cx="58.49" cy="122.21" r="0.85" fill="#d01808"/><circle cx="56.92" cy="106.82" r="0.76" fill="#d01808"/><circle cx="63.53" cy="125.43" r="0.8" fill="#d01808"/><circle cx="55.68" cy="110.41" r="0.69" fill="#d01808"/><circle cx="85.92" cy="121.33" r="0.62" fill="#d01808"/><circle cx="55.77" cy="105.46" r="0.82" fill="#e0200a"/><circle cx="73.64" cy="112.93" r="0.67" fill="#d01808"/><circle cx="60.02" cy="98.4" r="0.65" fill="#d01808"/><circle cx="67.14" cy="119.62" r="0.7" fill="#d01808"/><circle cx="54.04" cy="109.26" r="0.85" fill="#d01808"/><circle cx="69.91" cy="97.06" r="0.83" fill="#d01808"/><circle cx="88.72" cy="120.68" r="0.83" fill="#d01808"/><circle cx="44.8" cy="108.46" r="0.61" fill="#d01808"/><circle cx="55.07" cy="117.11" r="0.83" fill="#e0200a"/><circle cx="46" cy="114.88" r="0.78" fill="#e0200a"/><circle cx="46.44" cy="112.85" r="0.62" fill="#d01808"/>
<polygon points="162,97 193,97 206,116.5 196,133 178,135.4 157,128 152,117.7" fill="url(#psph)" />
<circle cx="163.2" cy="99.11" r="0.75" fill="#e0180a"/><circle cx="166" cy="100.04" r="0.75" fill="#e0180a"/><circle cx="163.79" cy="101.99" r="0.75" fill="#e0180a"/><circle cx="164.33" cy="100.38" r="1.05" fill="#f39a2c"/><circle cx="178.4" cy="98.79" r="0.75" fill="#e0180a"/><circle cx="179.16" cy="101.64" r="0.75" fill="#e0180a"/><circle cx="176.31" cy="100.87" r="0.75" fill="#e0180a"/><circle cx="177.96" cy="100.43" r="1.05" fill="#f39a2c"/><circle cx="188.92" cy="98.97" r="0.75" fill="#e0180a"/><circle cx="191.51" cy="97.58" r="0.75" fill="#e0180a"/><circle cx="191.42" cy="100.52" r="0.75" fill="#e0180a"/><circle cx="190.62" cy="99.02" r="1.05" fill="#f39a2c"/><circle cx="198.3" cy="113.24" r="0.75" fill="#e0180a"/><circle cx="198.99" cy="110.38" r="0.75" fill="#e0180a"/><circle cx="201.13" cy="112.4" r="0.75" fill="#e0180a"/><circle cx="199.47" cy="112.01" r="1.05" fill="#f39a2c"/><circle cx="170.63" cy="105.5" r="0.75" fill="#e0180a"/><circle cx="171.36" cy="108.35" r="0.75" fill="#e0180a"/><circle cx="168.52" cy="107.56" r="0.75" fill="#e0180a"/><circle cx="170.17" cy="107.14" r="1.05" fill="#f39a2c"/><circle cx="161.1" cy="115.91" r="0.75" fill="#e0180a"/><circle cx="158.26" cy="116.66" r="0.75" fill="#e0180a"/><circle cx="159.03" cy="113.82" r="0.75" fill="#e0180a"/><circle cx="159.46" cy="115.47" r="1.05" fill="#f39a2c"/><circle cx="185.19" cy="110.27" r="0.75" fill="#e0180a"/><circle cx="184.44" cy="113.12" r="0.75" fill="#e0180a"/><circle cx="182.35" cy="111.04" r="0.75" fill="#e0180a"/><circle cx="184" cy="111.48" r="1.05" fill="#f39a2c"/><circle cx="195.42" cy="123.56" r="0.75" fill="#e0180a"/><circle cx="195.34" cy="120.62" r="0.75" fill="#e0180a"/><circle cx="197.93" cy="122.02" r="0.75" fill="#e0180a"/><circle cx="196.23" cy="122.07" r="1.05" fill="#f39a2c"/><circle cx="173.62" cy="119.72" r="0.75" fill="#e0180a"/><circle cx="171.63" cy="121.89" r="0.75" fill="#e0180a"/><circle cx="170.74" cy="119.08" r="0.75" fill="#e0180a"/><circle cx="172" cy="120.23" r="1.05" fill="#f39a2c"/><circle cx="157.43" cy="123.76" r="0.75" fill="#e0180a"/><circle cx="157.73" cy="126.69" r="0.75" fill="#e0180a"/><circle cx="155.05" cy="125.48" r="0.75" fill="#e0180a"/><circle cx="156.74" cy="125.31" r="1.05" fill="#f39a2c"/><circle cx="182.62" cy="128.35" r="0.75" fill="#e0180a"/><circle cx="184.63" cy="126.2" r="0.75" fill="#e0180a"/><circle cx="185.49" cy="129.02" r="0.75" fill="#e0180a"/><circle cx="184.25" cy="127.86" r="1.05" fill="#f39a2c"/><circle cx="198.41" cy="128.85" r="0.75" fill="#e0180a"/><circle cx="200.81" cy="127.14" r="0.75" fill="#e0180a"/><circle cx="201.09" cy="130.07" r="0.75" fill="#e0180a"/><circle cx="200.1" cy="128.69" r="1.05" fill="#f39a2c"/><circle cx="168.5" cy="128.8" r="0.75" fill="#e0180a"/><circle cx="167.91" cy="131.69" r="0.75" fill="#e0180a"/><circle cx="165.71" cy="129.73" r="0.75" fill="#e0180a"/><circle cx="167.37" cy="130.07" r="1.05" fill="#f39a2c"/><circle cx="177.91" cy="136.2" r="0.75" fill="#e0180a"/><circle cx="175.83" cy="134.12" r="0.75" fill="#e0180a"/><circle cx="178.67" cy="133.36" r="0.75" fill="#e0180a"/><circle cx="177.47" cy="134.56" r="1.05" fill="#f39a2c"/><circle cx="154.98" cy="119.09" r="0.75" fill="#e0180a"/><circle cx="156.39" cy="121.68" r="0.75" fill="#e0180a"/><circle cx="153.44" cy="121.6" r="0.75" fill="#e0180a"/><circle cx="154.94" cy="120.79" r="1.05" fill="#f39a2c"/>
<path d="M81.4 13.6 Q112 -1 143.6 11.4" stroke="#111" stroke-width="1.1" fill="none"/>
<path d="M118.5 6.2 L112 3.2 L112.6 9.4 Z" fill="#111"/>
<text x="100" y="23.6" font-size="8.5" fill="#2a2ad8" stroke="#2a2ad8" stroke-width="0.2">FeOx ALD</text>
<ellipse cx="117.9" cy="87.5" rx="46.7" ry="14.5" fill="#fdf3d2" stroke="#f0963a" stroke-width="1.1"/>
<text x="117.5" y="84.9" text-anchor="middle" font-size="8.9" fill="#333">Self-limiting and</text>
<text x="117.8" y="93.4" text-anchor="middle" font-size="8.9" fill="#333">Selective deposition</text>
<path d="M149 78.8 Q157 78.2 165 76.5" stroke="#f08a20" stroke-width="2.8" fill="none"/>
<path d="M172.2 73.4 L159.8 73.2 L166.2 83.2 Z" fill="#f08a20"/>
<path d="M196 73.8 L197.4 91.5" stroke="#111" stroke-width="1.1"/>
<path d="M193.8 82.1 L201 82.1 L197.5 87.5 Z" fill="#111"/>
<text x="201" y="94.6" font-size="8.8" fill="#222">O<tspan font-size="5.5" dy="1.8">2</tspan></text>
<path d="M62 153.4 Q114 191 167 153.6" stroke="#111" stroke-width="1.2" fill="none"/>
<path d="M109.8 172.3 L117 169 L117 175.6 Z" fill="#111"/>
<text x="76.3" y="161.1" font-size="8.8" fill="#2222d4" stroke="#2222d4" stroke-width="0.25">Multiple ALD cycles</text>
<rect x="1" y="185" width="239" height="119" fill="#050505"/>
<g clip-path="url(#cbL)">
<g filter="url(#blur4)"><rect x="-0.5" y="183.5" width="11" height="11" fill="#000000"/><rect x="9.5" y="183.5" width="11" height="11" fill="#000000"/><rect x="19.5" y="183.5" width="11" height="11" fill="#000000"/><rect x="29.5" y="183.5" width="11" height="11" fill="#2b2b2b"/><rect x="39.5" y="183.5" width="11" height="11" fill="#464646"/><rect x="49.5" y="183.5" width="11" height="11" fill="#4b4b4b"/><rect x="59.5" y="183.5" width="11" height="11" fill="#515151"/><rect x="69.5" y="183.5" width="11" height="11" fill="#4b4b4b"/><rect x="79.5" y="183.5" width="11" height="11" fill="#404040"/><rect x="89.5" y="183.5" width="11" height="11" fill="#363636"/><rect x="99.5" y="183.5" width="11" height="11" fill="#2b2b2b"/><rect x="109.5" y="183.5" width="11" height="11" fill="#404040"/><rect x="-0.5" y="193.5" width="11" height="11" fill="#000000"/><rect x="9.5" y="193.5" width="11" height="11" fill="#000000"/><rect x="19.5" y="193.5" width="11" height="11" fill="#000000"/><rect x="29.5" y="193.5" width="11" height="11" fill="#4b4b4b"/><rect x="39.5" y="193.5" width="11" height="11" fill="#515151"/><rect x="49.5" y="193.5" width="11" height="11" fill="#515151"/><rect x="59.5" y="193.5" width="11" height="11" fill="#4b4b4b"/><rect x="69.5" y="193.5" width="11" height="11" fill="#4b4b4b"/><rect x="79.5" y="193.5" width="11" height="11" fill="#464646"/><rect x="89.5" y="193.5" width="11" height="11" fill="#1b1b1b"/><rect x="99.5" y="193.5" width="11" height="11" fill="#0a0a0a"/><rect x="109.5" y="193.5" width="11" height="11" fill="#101010"/><rect x="-0.5" y="203.5" width="11" height="11" fill="#000000"/><rect x="9.5" y="203.5" width="11" height="11" fill="#050505"/><rect x="19.5" y="203.5" width="11" height="11" fill="#1b1b1b"/><rect x="29.5" y="203.5" width="11" height="11" fill="#4b4b4b"/><rect x="39.5" y="203.5" width="11" height="11" fill="#464646"/><rect x="49.5" y="203.5" width="11" height="11" fill="#404040"/><rect x="59.5" y="203.5" width="11" height="11" fill="#4b4b4b"/><rect x="69.5" y="203.5" width="11" height="11" fill="#464646"/><rect x="79.5" y="203.5" width="11" height="11" fill="#3b3b3b"/><rect x="89.5" y="203.5" width="11" height="11" fill="#0a0a0a"/><rect x="99.5" y="203.5" width="11" height="11" fill="#050505"/><rect x="109.5" y="203.5" width="11" height="11" fill="#050505"/><rect x="-0.5" y="213.5" width="11" height="11" fill="#101010"/><rect x="9.5" y="213.5" width="11" height="11" fill="#404040"/><rect x="19.5" y="213.5" width="11" height="11" fill="#4b4b4b"/><rect x="29.5" y="213.5" width="11" height="11" fill="#515151"/><rect x="39.5" y="213.5" width="11" height="11" fill="#4b4b4b"/><rect x="49.5" y="213.5" width="11" height="11" fill="#404040"/><rect x="59.5" y="213.5" width="11" height="11" fill="#464646"/><rect x="69.5" y="213.5" width="11" height="11" fill="#464646"/><rect x="79.5" y="213.5" width="11" height="11" fill="#252525"/><rect x="89.5" y="213.5" width="11" height="11" fill="#050505"/><rect x="99.5" y="213.5" width="11" height="11" fill="#050505"/><rect x="109.5" y="213.5" width="11" height="11" fill="#2b2b2b"/><rect x="-0.5" y="223.5" width="11" height="11" fill="#252525"/><rect x="9.5" y="223.5" width="11" height="11" fill="#515151"/><rect x="19.5" y="223.5" width="11" height="11" fill="#565656"/><rect x="29.5" y="223.5" width="11" height="11" fill="#565656"/><rect x="39.5" y="223.5" width="11" height="11" fill="#515151"/><rect x="49.5" y="223.5" width="11" height="11" fill="#4b4b4b"/><rect x="59.5" y="223.5" width="11" height="11" fill="#464646"/><rect x="69.5" y="223.5" width="11" height="11" fill="#404040"/><rect x="79.5" y="223.5" width="11" height="11" fill="#202020"/><rect x="89.5" y="223.5" width="11" height="11" fill="#050505"/><rect x="99.5" y="223.5" width="11" height="11" fill="#0a0a0a"/><rect x="109.5" y="223.5" width="11" height="11" fill="#303030"/><rect x="-0.5" y="233.5" width="11" height="11" fill="#202020"/><rect x="9.5" y="233.5" width="11" height="11" fill="#565656"/><rect x="19.5" y="233.5" width="11" height="11" fill="#5b5b5b"/><rect x="29.5" y="233.5" width="11" height="11" fill="#565656"/><rect x="39.5" y="233.5" width="11" height="11" fill="#565656"/><rect x="49.5" y="233.5" width="11" height="11" fill="#515151"/><rect x="59.5" y="233.5" width="11" height="11" fill="#404040"/><rect x="69.5" y="233.5" width="11" height="11" fill="#3b3b3b"/><rect x="79.5" y="233.5" width="11" height="11" fill="#202020"/><rect x="89.5" y="233.5" width="11" height="11" fill="#0a0a0a"/><rect x="99.5" y="233.5" width="11" height="11" fill="#050505"/><rect x="109.5" y="233.5" width="11" height="11" fill="#101010"/><rect x="-0.5" y="243.5" width="11" height="11" fill="#151515"/><rect x="9.5" y="243.5" width="11" height="11" fill="#202020"/><rect x="19.5" y="243.5" width="11" height="11" fill="#252525"/><rect x="29.5" y="243.5" width="11" height="11" fill="#303030"/><rect x="39.5" y="243.5" width="11" height="11" fill="#3b3b3b"/><rect x="49.5" y="243.5" width="11" height="11" fill="#3b3b3b"/><rect x="59.5" y="243.5" width="11" height="11" fill="#303030"/><rect x="69.5" y="243.5" width="11" height="11" fill="#565656"/><rect x="79.5" y="243.5" width="11" height="11" fill="#5b5b5b"/><rect x="89.5" y="243.5" width="11" height="11" fill="#515151"/><rect x="99.5" y="243.5" width="11" height="11" fill="#1b1b1b"/><rect x="109.5" y="243.5" width="11" height="11" fill="#1b1b1b"/><rect x="-0.5" y="253.5" width="11" height="11" fill="#3b3b3b"/><rect x="9.5" y="253.5" width="11" height="11" fill="#515151"/><rect x="19.5" y="253.5" width="11" height="11" fill="#515151"/><rect x="29.5" y="253.5" width="11" height="11" fill="#464646"/><rect x="39.5" y="253.5" width="11" height="11" fill="#404040"/><rect x="49.5" y="253.5" width="11" height="11" fill="#404040"/><rect x="59.5" y="253.5" width="11" height="11" fill="#363636"/><rect x="69.5" y="253.5" width="11" height="11" fill="#5b5b5b"/><rect x="79.5" y="253.5" width="11" height="11" fill="#616161"/><rect x="89.5" y="253.5" width="11" height="11" fill="#565656"/><rect x="99.5" y="253.5" width="11" height="11" fill="#565656"/><rect x="109.5" y="253.5" width="11" height="11" fill="#616161"/><rect x="-0.5" y="263.5" width="11" height="11" fill="#0a0a0a"/><rect x="9.5" y="263.5" width="11" height="11" fill="#151515"/><rect x="19.5" y="263.5" width="11" height="11" fill="#2b2b2b"/><rect x="29.5" y="263.5" width="11" height="11" fill="#515151"/><rect x="39.5" y="263.5" width="11" height="11" fill="#5b5b5b"/><rect x="49.5" y="263.5" width="11" height="11" fill="#5b5b5b"/><rect x="59.5" y="263.5" width="11" height="11" fill="#404040"/><rect x="69.5" y="263.5" width="11" height="11" fill="#3b3b3b"/><rect x="79.5" y="263.5" width="11" height="11" fill="#565656"/><rect x="89.5" y="263.5" width="11" height="11" fill="#515151"/><rect x="99.5" y="263.5" width="11" height="11" fill="#616161"/><rect x="109.5" y="263.5" width="11" height="11" fill="#666666"/><rect x="-0.5" y="273.5" width="11" height="11" fill="#050505"/><rect x="9.5" y="273.5" width="11" height="11" fill="#0a0a0a"/><rect x="19.5" y="273.5" width="11" height="11" fill="#404040"/><rect x="29.5" y="273.5" width="11" height="11" fill="#616161"/><rect x="39.5" y="273.5" width="11" height="11" fill="#616161"/><rect x="49.5" y="273.5" width="11" height="11" fill="#616161"/><rect x="59.5" y="273.5" width="11" height="11" fill="#404040"/><rect x="69.5" y="273.5" width="11" height="11" fill="#464646"/><rect x="79.5" y="273.5" width="11" height="11" fill="#464646"/><rect x="89.5" y="273.5" width="11" height="11" fill="#404040"/><rect x="99.5" y="273.5" width="11" height="11" fill="#616161"/><rect x="109.5" y="273.5" width="11" height="11" fill="#666666"/><rect x="-0.5" y="283.5" width="11" height="11" fill="#050505"/><rect x="9.5" y="283.5" width="11" height="11" fill="#0a0a0a"/><rect x="19.5" y="283.5" width="11" height="11" fill="#4b4b4b"/><rect x="29.5" y="283.5" width="11" height="11" fill="#5b5b5b"/><rect x="39.5" y="283.5" width="11" height="11" fill="#616161"/><rect x="49.5" y="283.5" width="11" height="11" fill="#616161"/><rect x="59.5" y="283.5" width="11" height="11" fill="#303030"/><rect x="69.5" y="283.5" width="11" height="11" fill="#515151"/><rect x="79.5" y="283.5" width="11" height="11" fill="#464646"/><rect x="89.5" y="283.5" width="11" height="11" fill="#404040"/><rect x="99.5" y="283.5" width="11" height="11" fill="#4b4b4b"/><rect x="109.5" y="283.5" width="11" height="11" fill="#565656"/><rect x="-0.5" y="293.5" width="11" height="11" fill="#050505"/><rect x="9.5" y="293.5" width="11" height="11" fill="#0a0a0a"/><rect x="19.5" y="293.5" width="11" height="11" fill="#4b4b4b"/><rect x="29.5" y="293.5" width="11" height="11" fill="#565656"/><rect x="39.5" y="293.5" width="11" height="11" fill="#5b5b5b"/><rect x="49.5" y="293.5" width="11" height="11" fill="#5b5b5b"/><rect x="59.5" y="293.5" width="11" height="11" fill="#4b4b4b"/><rect x="69.5" y="293.5" width="11" height="11" fill="#515151"/><rect x="79.5" y="293.5" width="11" height="11" fill="#4b4b4b"/><rect x="89.5" y="293.5" width="11" height="11" fill="#404040"/><rect x="99.5" y="293.5" width="11" height="11" fill="#404040"/><rect x="109.5" y="293.5" width="11" height="11" fill="#404040"/></g>
<g filter="url(#blur3)"><polygon points="-3,180 30,180 31,195 28,205 15,209 -3,211" fill="#040404" stroke="#040404" stroke-width="3" stroke-linejoin="round"/><polygon points="93,197 101,193 112,193 123,193 123,210 113,213 108,222 109,235 123,238 123,248 102,250 95,245 90,232 89,214" fill="#040404" stroke="#040404" stroke-width="3" stroke-linejoin="round"/><polygon points="-3,268 18,267 24,273 26,286 23,307 -3,307" fill="#040404" stroke="#040404" stroke-width="3" stroke-linejoin="round"/><polygon points="0,243 22,244 30,250 8,253 0,253" fill="#040404" stroke="#040404" stroke-width="3" stroke-linejoin="round"/><polygon points="98,243 121,243 121,254 104,255" fill="#040404" stroke="#040404" stroke-width="3" stroke-linejoin="round"/><ellipse cx="115.5" cy="224" rx="5.5" ry="8" fill="#3c3c3c"/></g>
<g filter="url(#blur2)"><ellipse cx="52" cy="217" rx="6.5" ry="6.5" fill="#050505"/><ellipse cx="66" cy="273" rx="7" ry="7.5" fill="#050505"/></g>
<rect x="1" y="185" width="119" height="119" fill="#000" filter="url(#tex)" opacity="0.5"/>
<g filter="url(#blur1)"><circle cx="36.3" cy="195.5" r="1.37" fill="#f2f2f2"/><circle cx="49.6" cy="189.7" r="1.16" fill="#f2f2f2"/><circle cx="28.6" cy="231.7" r="1.58" fill="#f2f2f2"/><circle cx="30.5" cy="237.4" r="1.47" fill="#f2f2f2"/><circle cx="27" cy="238" r="1.16" fill="#f2f2f2"/><circle cx="21" cy="233.6" r="1.26" fill="#f2f2f2"/><circle cx="55.3" cy="227.9" r="1.26" fill="#f2f2f2"/><circle cx="70.6" cy="206.9" r="1.16" fill="#f2f2f2"/><circle cx="76.3" cy="210.7" r="1.26" fill="#f2f2f2"/><circle cx="82" cy="218.3" r="1.05" fill="#f2f2f2"/><circle cx="87.8" cy="216.4" r="1.16" fill="#f2f2f2"/><circle cx="61" cy="239.3" r="1.26" fill="#f2f2f2"/><circle cx="66.8" cy="245" r="1.05" fill="#f2f2f2"/><circle cx="38.2" cy="254.6" r="1.47" fill="#f2f2f2"/><circle cx="42" cy="256.5" r="1.26" fill="#f2f2f2"/><circle cx="82" cy="254.6" r="1.16" fill="#f2f2f2"/><circle cx="91.6" cy="258.4" r="1.26" fill="#f2f2f2"/><circle cx="28.6" cy="275.6" r="1.37" fill="#f2f2f2"/><circle cx="30.5" cy="287" r="1.16" fill="#f2f2f2"/><circle cx="53.4" cy="275.6" r="1.26" fill="#f2f2f2"/><circle cx="68.7" cy="287" r="1.05" fill="#f2f2f2"/><circle cx="103" cy="275.6" r="1.37" fill="#f2f2f2"/><circle cx="110.7" cy="271.8" r="1.68" fill="#f2f2f2"/><circle cx="114.5" cy="281.3" r="1.26" fill="#f2f2f2"/><circle cx="42" cy="224" r="1.16" fill="#f2f2f2"/><circle cx="17.2" cy="218.3" r="0.95" fill="#f2f2f2"/><circle cx="5.7" cy="254.6" r="0.95" fill="#f2f2f2"/><circle cx="95.4" cy="191.6" r="1.05" fill="#f2f2f2"/><circle cx="108.8" cy="205" r="0.95" fill="#f2f2f2"/><circle cx="76.3" cy="294.7" r="1.05" fill="#f2f2f2"/><circle cx="22.9" cy="287" r="0.95" fill="#f2f2f2"/><circle cx="114.5" cy="264" r="1.16" fill="#f2f2f2"/><circle cx="44" cy="190" r="0.95" fill="#f2f2f2"/><circle cx="57" cy="199" r="1.05" fill="#f2f2f2"/><circle cx="38.5" cy="202" r="0.95" fill="#f2f2f2"/><circle cx="52" cy="237" r="0.95" fill="#f2f2f2"/><circle cx="77" cy="225" r="1.05" fill="#f2f2f2"/><circle cx="75" cy="236" r="0.95" fill="#f2f2f2"/><circle cx="86" cy="194" r="1.05" fill="#f2f2f2"/><circle cx="115" cy="229" r="0.95" fill="#f2f2f2"/><circle cx="47" cy="262" r="0.95" fill="#f2f2f2"/><circle cx="57" cy="289" r="1.05" fill="#f2f2f2"/><circle cx="40" cy="290" r="0.95" fill="#f2f2f2"/><circle cx="79" cy="255" r="0.95" fill="#f2f2f2"/><circle cx="98" cy="270" r="1.05" fill="#f2f2f2"/><circle cx="85" cy="275" r="0.95" fill="#f2f2f2"/><circle cx="113" cy="300" r="0.95" fill="#f2f2f2"/><circle cx="63" cy="257" r="0.95" fill="#f2f2f2"/></g>
</g>
<text x="5" y="199.8" font-size="10.4" font-weight="bold" fill="#fff">(b)</text>
<rect x="85.8" y="297.6" width="28.8" height="1.9" fill="#fff"/>
<text x="100.5" y="295.8" text-anchor="middle" font-size="8.6" font-weight="bold" fill="#fff">20 nm</text>
<g clip-path="url(#cbR)">
<rect x="120" y="185" width="121" height="119" fill="#2e2e2e"/>
<rect x="120" y="185" width="121" height="119" fill="#fff" filter="url(#noise)" opacity="0.35"/>
<ellipse cx="179" cy="244.5" rx="46" ry="44" fill="#3a3a3a" filter="url(#blur3)" opacity="0.8"/>
<ellipse cx="179" cy="244.5" rx="35" ry="33" fill="#5a5a5a" filter="url(#blur3)"/>
<g mask="url(#mpart)"><ellipse cx="179" cy="244.5" rx="34" ry="31" fill="#6e6e6e"/><path d="M123.47 236.13 L126.51 233.51 L129.63 230.99 L132.94 228.73 L136.36 226.65 L139.74 224.49 L142.94 222.08 L145.99 219.48 L149.06 216.91 L152.31 214.58 L155.72 212.46 L159.13 210.35 L162.38 208.02 L165.46 205.45 L168.51 202.84 L171.71 200.44 L175.08 198.28 L178.51 196.19 L181.82 193.93 L184.93 191.42 L187.97 188.8 M126.06 239.69 L129.1 237.07 L132.22 234.55 L135.52 232.29 L138.95 230.21 L142.33 228.05 L145.52 225.64 L148.57 223.04 L151.65 220.47 L154.9 218.14 L158.31 216.02 L161.72 213.91 L164.97 211.58 L168.05 209.01 L171.1 206.4 L174.29 204 L177.67 201.84 L181.1 199.75 L184.4 197.49 L187.52 194.98 L190.56 192.36 M128.65 243.25 L131.69 240.63 L134.8 238.11 L138.11 235.85 L141.54 233.77 L144.91 231.61 L148.11 229.2 L151.16 226.6 L154.24 224.03 L157.49 221.7 L160.9 219.58 L164.31 217.47 L167.56 215.14 L170.63 212.57 L173.68 209.96 L176.88 207.56 L180.26 205.4 L183.68 203.31 L186.99 201.05 L190.11 198.54 L193.14 195.92 M131.23 246.81 L134.27 244.19 L137.39 241.67 L140.69 239.41 L144.12 237.33 L147.5 235.17 L150.69 232.76 L153.75 230.16 L156.82 227.59 L160.07 225.25 L163.48 223.14 L166.89 221.03 L170.14 218.7 L173.22 216.13 L176.27 213.52 L179.47 211.11 L182.84 208.96 L186.27 206.87 L189.57 204.61 L192.69 202.1 L195.73 199.48 M133.82 250.37 L136.86 247.75 L139.98 245.23 L143.28 242.97 L146.71 240.89 L150.09 238.73 L153.28 236.32 L156.33 233.72 L159.41 231.15 L162.66 228.81 L166.07 226.7 L169.48 224.59 L172.73 222.26 L175.81 219.69 L178.86 217.08 L182.05 214.67 L185.43 212.52 L188.86 210.43 L192.16 208.17 L195.28 205.66 L198.32 203.04 M136.41 253.93 L139.45 251.3 L142.56 248.79 L145.87 246.53 L149.3 244.45 L152.67 242.29 L155.87 239.88 L158.92 237.27 L162 234.71 L165.25 232.37 L168.65 230.26 L172.06 228.15 L175.31 225.82 L178.39 223.25 L181.44 220.64 L184.64 218.23 L188.01 216.08 L191.44 213.99 L194.75 211.73 L197.86 209.22 L200.9 206.6 M138.99 257.49 L142.03 254.86 L145.15 252.35 L148.45 250.09 L151.88 248.01 L155.26 245.85 L158.45 243.44 L161.5 240.83 L164.58 238.27 L167.83 235.93 L171.24 233.82 L174.65 231.71 L177.9 229.38 L180.98 226.81 L184.03 224.2 L187.22 221.79 L190.6 219.64 L194.03 217.55 L197.33 215.29 L200.45 212.78 L203.49 210.16 M141.58 261.05 L144.62 258.42 L147.74 255.91 L151.04 253.65 L154.47 251.57 L157.84 249.41 L161.04 247 L164.09 244.39 L167.17 241.83 L170.42 239.49 L173.83 237.38 L177.24 235.27 L180.49 232.94 L183.56 230.37 L186.62 227.76 L189.81 225.35 L193.19 223.19 L196.62 221.11 L199.92 218.85 L203.04 216.34 L206.08 213.72 M144.16 264.61 L147.2 261.98 L150.32 259.47 L153.63 257.21 L157.05 255.13 L160.43 252.97 L163.63 250.56 L166.68 247.95 L169.75 245.39 L173 243.05 L176.41 240.94 L179.82 238.83 L183.07 236.5 L186.15 233.93 L189.2 231.32 L192.4 228.91 L195.77 226.75 L199.2 224.67 L202.51 222.41 L205.62 219.9 L208.66 217.27 M146.75 268.17 L149.79 265.54 L152.91 263.03 L156.21 260.77 L159.64 258.69 L163.02 256.53 L166.21 254.12 L169.26 251.51 L172.34 248.94 L175.59 246.61 L179 244.5 L182.41 242.39 L185.66 240.06 L188.74 237.49 L191.79 234.88 L194.98 232.47 L198.36 230.31 L201.79 228.23 L205.09 225.97 L208.21 223.46 L211.25 220.83 M149.34 271.73 L152.38 269.1 L155.49 266.59 L158.8 264.33 L162.23 262.25 L165.6 260.09 L168.8 257.68 L171.85 255.07 L174.93 252.5 L178.18 250.17 L181.59 248.06 L185 245.95 L188.25 243.61 L191.32 241.05 L194.37 238.44 L197.57 236.03 L200.95 233.87 L204.37 231.79 L207.68 229.53 L210.8 227.02 L213.84 224.39 M151.92 275.28 L154.96 272.66 L158.08 270.15 L161.38 267.89 L164.81 265.81 L168.19 263.65 L171.38 261.24 L174.44 258.63 L177.51 256.06 L180.76 253.73 L184.17 251.62 L187.58 249.51 L190.83 247.17 L193.91 244.61 L196.96 242 L200.16 239.59 L203.53 237.43 L206.96 235.35 L210.26 233.09 L213.38 230.58 L216.42 227.95 M154.51 278.84 L157.55 276.22 L160.67 273.71 L163.97 271.45 L167.4 269.36 L170.78 267.21 L173.97 264.8 L177.02 262.19 L180.1 259.62 L183.35 257.29 L186.76 255.18 L190.17 253.07 L193.42 250.73 L196.5 248.17 L199.55 245.56 L202.74 243.15 L206.12 240.99 L209.55 238.91 L212.85 236.65 L215.97 234.14 L219.01 231.51 M157.1 282.4 L160.14 279.78 L163.25 277.27 L166.56 275.01 L169.99 272.92 L173.36 270.77 L176.56 268.36 L179.61 265.75 L182.69 263.18 L185.94 260.85 L189.35 258.74 L192.75 256.63 L196 254.29 L199.08 251.73 L202.13 249.12 L205.33 246.71 L208.7 244.55 L212.13 242.47 L215.44 240.21 L218.55 237.7 L221.59 235.07 M159.68 285.96 L162.72 283.34 L165.84 280.83 L169.14 278.57 L172.57 276.48 L175.95 274.33 L179.14 271.92 L182.19 269.31 L185.27 266.74 L188.52 264.41 L191.93 262.3 L195.34 260.19 L198.59 257.85 L201.67 255.28 L204.72 252.68 L207.91 250.27 L211.29 248.11 L214.72 246.03 L218.02 243.77 L221.14 241.25 L224.18 238.63 M162.27 289.52 L165.31 286.9 L168.43 284.39 L171.73 282.13 L175.16 280.04 L178.53 277.89 L181.73 275.48 L184.78 272.87 L187.86 270.3 L191.11 267.97 L194.52 265.86 L197.93 263.75 L201.18 261.41 L204.25 258.84 L207.31 256.24 L210.5 253.83 L213.88 251.67 L217.31 249.59 L220.61 247.33 L223.73 244.81 L226.77 242.19 M164.86 293.08 L167.89 290.46 L171.01 287.95 L174.32 285.69 L177.74 283.6 L181.12 281.44 L184.32 279.04 L187.37 276.43 L190.44 273.86 L193.69 271.53 L197.1 269.42 L200.51 267.3 L203.76 264.97 L206.84 262.4 L209.89 259.8 L213.09 257.39 L216.46 255.23 L219.89 253.15 L223.2 250.89 L226.31 248.37 L229.35 245.75 M167.44 296.64 L170.48 294.02 L173.6 291.51 L176.9 289.25 L180.33 287.16 L183.71 285 L186.9 282.6 L189.95 279.99 L193.03 277.42 L196.28 275.09 L199.69 272.98 L203.1 270.86 L206.35 268.53 L209.43 265.96 L212.48 263.36 L215.67 260.95 L219.05 258.79 L222.48 256.71 L225.78 254.45 L228.9 251.93 L231.94 249.31 M170.03 300.2 L173.07 297.58 L176.18 295.07 L179.49 292.81 L182.92 290.72 L186.29 288.56 L189.49 286.16 L192.54 283.55 L195.62 280.98 L198.87 278.65 L202.28 276.54 L205.69 274.42 L208.94 272.09 L212.01 269.52 L215.06 266.92 L218.26 264.51 L221.64 262.35 L225.06 260.27 L228.37 258.01 L231.49 255.49 L234.53 252.87" stroke="#ececec" stroke-width="2.2" fill="none" filter="url(#blurp)"/><rect x="140" y="208" width="80" height="76" fill="#fff" filter="url(#noise)" opacity="0.45"/></g>
</g>
<path d="M185.5 232.8 L205.7 218.2 M188 235.9 L207.7 221.5" stroke="#f5e600" stroke-width="1.4"/>
<path d="M193 210 L198 215.5" stroke="#fff" stroke-width="1.3"/><path d="M201.5 219.8 L195 217.8 L199.6 213.2 Z" fill="#fff"/>
<path d="M213.5 234.5 L209 229.5" stroke="#fff" stroke-width="1.3"/><path d="M205.5 225 L212 227.2 L207.5 231.5 Z" fill="#fff"/>
<text x="205.6" y="214" font-size="7.9" font-weight="bold" fill="#fff" textLength="29.4" lengthAdjust="spacingAndGlyphs">0.20 nm</text>
<rect x="207" y="298.2" width="21.8" height="1.6" fill="#fff"/>
<text x="218.9" y="296" text-anchor="middle" font-size="7.8" font-weight="bold" fill="#fff">1 nm</text>
<rect x="281.23" y="7.3" width="187.95" height="130.9" fill="none" stroke="#333" stroke-width="1.1"/>
<path d="M286.6 138.2v3.2 M286.6 7.3v3.2 M308.08 138.2v3.2 M308.08 7.3v3.2 M329.56 138.2v3.2 M329.56 7.3v3.2 M351.04 138.2v3.2 M351.04 7.3v3.2 M372.52 138.2v3.2 M372.52 7.3v3.2 M394 138.2v3.2 M394 7.3v3.2 M415.48 138.2v3.2 M415.48 7.3v3.2 M436.96 138.2v3.2 M436.96 7.3v3.2 M458.44 138.2v3.2 M458.44 7.3v3.2 M297.34 138.2v1.8 M297.34 7.3v1.8 M318.82 138.2v1.8 M318.82 7.3v1.8 M340.3 138.2v1.8 M340.3 7.3v1.8 M361.78 138.2v1.8 M361.78 7.3v1.8 M383.26 138.2v1.8 M383.26 7.3v1.8 M404.74 138.2v1.8 M404.74 7.3v1.8 M426.22 138.2v1.8 M426.22 7.3v1.8 M447.7 138.2v1.8 M447.7 7.3v1.8 M281.23 138.2h-3.8 M469.18 138.2h-3.8 M281.23 114.4h-3.8 M469.18 114.4h-3.8 M281.23 90.6h-3.8 M469.18 90.6h-3.8 M281.23 66.8h-3.8 M469.18 66.8h-3.8 M281.23 43h-3.8 M469.18 43h-3.8 M281.23 19.2h-3.8 M469.18 19.2h-3.8 M281.23 126.3h-2 M469.18 126.3h-2 M281.23 102.5h-2 M469.18 102.5h-2 M281.23 78.7h-2 M469.18 78.7h-2 M281.23 54.9h-2 M469.18 54.9h-2 M281.23 31.1h-2 M469.18 31.1h-2 M281.23 7.3h-2 M469.18 7.3h-2" stroke="#333" stroke-width="1" fill="none"/>
<text transform="translate(286.6 150.8) scale(0.92 1)" text-anchor="middle" font-size="8.5" fill="#222">160</text>
<text transform="translate(308.08 150.8) scale(0.92 1)" text-anchor="middle" font-size="8.5" fill="#222">200</text>
<text transform="translate(329.56 150.8) scale(0.92 1)" text-anchor="middle" font-size="8.5" fill="#222">240</text>
<text transform="translate(351.04 150.8) scale(0.92 1)" text-anchor="middle" font-size="8.5" fill="#222">280</text>
<text transform="translate(372.52 150.8) scale(0.92 1)" text-anchor="middle" font-size="8.5" fill="#222">320</text>
<text transform="translate(394 150.8) scale(0.92 1)" text-anchor="middle" font-size="8.5" fill="#222">360</text>
<text transform="translate(415.48 150.8) scale(0.92 1)" text-anchor="middle" font-size="8.5" fill="#222">400</text>
<text transform="translate(436.96 150.8) scale(0.92 1)" text-anchor="middle" font-size="8.5" fill="#222">440</text>
<text transform="translate(458.44 150.8) scale(0.92 1)" text-anchor="middle" font-size="8.5" fill="#222">480</text>
<text transform="translate(276.03 141.2) scale(0.92 1)" text-anchor="end" font-size="8.5" fill="#222">0</text>
<text transform="translate(276.03 117.4) scale(0.92 1)" text-anchor="end" font-size="8.5" fill="#222">20</text>
<text transform="translate(276.03 93.6) scale(0.92 1)" text-anchor="end" font-size="8.5" fill="#222">40</text>
<text transform="translate(276.03 69.8) scale(0.92 1)" text-anchor="end" font-size="8.5" fill="#222">60</text>
<text transform="translate(276.03 46) scale(0.92 1)" text-anchor="end" font-size="8.5" fill="#222">80</text>
<text transform="translate(276.03 22.2) scale(0.92 1)" text-anchor="end" font-size="8.5" fill="#222">100</text>
<path d="M359.63 136.65 L362.85 136.65 L371.98 135.34 L380.04 134.15 L388.42 132.25 L395.61 127.97 L406.78 115.71 L417.84 92.03 L429.28 47.76 L438.36 44.78 L444.91 42.05 L454.14 43.59" stroke="#000" stroke-width="0.8" fill="none"/>
<rect x="357.64" y="134.66" width="3.99" height="3.99" fill="#000"/>
<rect x="360.86" y="134.66" width="3.99" height="3.99" fill="#000"/>
<rect x="369.99" y="133.35" width="3.99" height="3.99" fill="#000"/>
<rect x="378.04" y="132.16" width="3.99" height="3.99" fill="#000"/>
<rect x="386.42" y="130.25" width="3.99" height="3.99" fill="#000"/>
<rect x="393.62" y="125.97" width="3.99" height="3.99" fill="#000"/>
<rect x="404.79" y="113.71" width="3.99" height="3.99" fill="#000"/>
<rect x="415.85" y="90.03" width="3.99" height="3.99" fill="#000"/>
<rect x="427.29" y="45.76" width="3.99" height="3.99" fill="#000"/>
<rect x="436.36" y="42.79" width="3.99" height="3.99" fill="#000"/>
<rect x="442.91" y="40.05" width="3.99" height="3.99" fill="#000"/>
<rect x="452.15" y="41.6" width="3.99" height="3.99" fill="#000"/>
<path d="M308.08 130.11 L312.38 127.97 L315.38 125.94 L320.7 122.73 L325.69 120.71 L330.1 119.4 L334.93 120.11 L341.21 117.37 L346.58 111.19 L356.41 98.1 L363.07 85.01 L376.06 55.85 L384.76 48.12 L393.36 65.37 L398.67 79.65 L410.97 105.12 L422.09 119.4 L431.54 121.9 L442.6 123.56 L454.14 125.94" stroke="#ff1a1a" stroke-width="0.8" fill="none"/>
<circle cx="308.08" cy="130.11" r="2.35" fill="#ff1a1a"/>
<circle cx="312.38" cy="127.97" r="2.35" fill="#ff1a1a"/>
<circle cx="315.38" cy="125.94" r="2.35" fill="#ff1a1a"/>
<circle cx="320.7" cy="122.73" r="2.35" fill="#ff1a1a"/>
<circle cx="325.69" cy="120.71" r="2.35" fill="#ff1a1a"/>
<circle cx="330.1" cy="119.4" r="2.35" fill="#ff1a1a"/>
<circle cx="334.93" cy="120.11" r="2.35" fill="#ff1a1a"/>
<circle cx="341.21" cy="117.37" r="2.35" fill="#ff1a1a"/>
<circle cx="346.58" cy="111.19" r="2.35" fill="#ff1a1a"/>
<circle cx="356.41" cy="98.1" r="2.35" fill="#ff1a1a"/>
<circle cx="363.07" cy="85.01" r="2.35" fill="#ff1a1a"/>
<circle cx="376.06" cy="55.85" r="2.35" fill="#ff1a1a"/>
<circle cx="384.76" cy="48.12" r="2.35" fill="#ff1a1a"/>
<circle cx="393.36" cy="65.37" r="2.35" fill="#ff1a1a"/>
<circle cx="398.67" cy="79.65" r="2.35" fill="#ff1a1a"/>
<circle cx="410.97" cy="105.12" r="2.35" fill="#ff1a1a"/>
<circle cx="422.09" cy="119.4" r="2.35" fill="#ff1a1a"/>
<circle cx="431.54" cy="121.9" r="2.35" fill="#ff1a1a"/>
<circle cx="442.6" cy="123.56" r="2.35" fill="#ff1a1a"/>
<circle cx="454.14" cy="125.94" r="2.35" fill="#ff1a1a"/>
<path d="M300.56 39.43 L301.64 34.67 L302.71 31.1 L304.32 26.34 L305.93 22.77 L307.54 20.39 L310.77 19.2 L316.14 19.2 L329.56 19.2 L345.67 19.2 L361.78 20.39 L372.52 19.79 L383.26 20.39 L394 21.58 L404.74 22.77 L415.48 25.15 L426.22 27.53 L436.96 29.91 L445.02 32.29 L453.07 35.86" stroke="#ff1aff" stroke-width="0.8" fill="none"/>
<path d="M300.56 41.59L302.72 37.81L298.4 37.81Z" fill="#ff1aff"/>
<path d="M301.64 36.83L303.8 33.05L299.48 33.05Z" fill="#ff1aff"/>
<path d="M302.71 33.26L304.87 29.48L300.55 29.48Z" fill="#ff1aff"/>
<path d="M304.32 28.5L306.48 24.72L302.16 24.72Z" fill="#ff1aff"/>
<path d="M305.93 24.93L308.09 21.15L303.77 21.15Z" fill="#ff1aff"/>
<path d="M307.54 22.55L309.7 18.77L305.38 18.77Z" fill="#ff1aff"/>
<path d="M310.77 21.36L312.93 17.58L308.61 17.58Z" fill="#ff1aff"/>
<path d="M316.14 21.36L318.3 17.58L313.98 17.58Z" fill="#ff1aff"/>
<path d="M329.56 21.36L331.72 17.58L327.4 17.58Z" fill="#ff1aff"/>
<path d="M345.67 21.36L347.83 17.58L343.51 17.58Z" fill="#ff1aff"/>
<path d="M361.78 22.55L363.94 18.77L359.62 18.77Z" fill="#ff1aff"/>
<path d="M372.52 21.95L374.68 18.17L370.36 18.17Z" fill="#ff1aff"/>
<path d="M383.26 22.55L385.42 18.77L381.1 18.77Z" fill="#ff1aff"/>
<path d="M394 23.74L396.16 19.96L391.84 19.96Z" fill="#ff1aff"/>
<path d="M404.74 24.93L406.9 21.15L402.58 21.15Z" fill="#ff1aff"/>
<path d="M415.48 27.31L417.64 23.53L413.32 23.53Z" fill="#ff1aff"/>
<path d="M426.22 29.69L428.38 25.91L424.06 25.91Z" fill="#ff1aff"/>
<path d="M436.96 32.07L439.12 28.29L434.8 28.29Z" fill="#ff1aff"/>
<path d="M445.02 34.45L447.18 30.67L442.86 30.67Z" fill="#ff1aff"/>
<path d="M453.07 38.02L455.23 34.24L450.91 34.24Z" fill="#ff1aff"/>
<path d="M305.93 28.72 L307.54 26.34 L309.15 23.96 L311.3 20.39 L316.14 19.2 L334.93 19.2 L361.78 19.2 L388.63 19.2 L404.74 20.39 L415.48 22.77 L426.22 25.15 L431.59 26.34 L439.65 28.72 L447.7 32.29 L453.07 34.67" stroke="#1a1aff" stroke-width="0.8" fill="none"/>
<path d="M305.93 26.56L308.09 30.34L303.77 30.34Z" fill="#1a1aff"/>
<path d="M307.54 24.18L309.7 27.96L305.38 27.96Z" fill="#1a1aff"/>
<path d="M309.15 21.8L311.31 25.58L306.99 25.58Z" fill="#1a1aff"/>
<path d="M311.3 18.23L313.46 22.01L309.14 22.01Z" fill="#1a1aff"/>
<path d="M316.14 17.04L318.3 20.82L313.98 20.82Z" fill="#1a1aff"/>
<path d="M334.93 17.04L337.09 20.82L332.77 20.82Z" fill="#1a1aff"/>
<path d="M361.78 17.04L363.94 20.82L359.62 20.82Z" fill="#1a1aff"/>
<path d="M388.63 17.04L390.79 20.82L386.47 20.82Z" fill="#1a1aff"/>
<path d="M404.74 18.23L406.9 22.01L402.58 22.01Z" fill="#1a1aff"/>
<path d="M415.48 20.61L417.64 24.39L413.32 24.39Z" fill="#1a1aff"/>
<path d="M426.22 22.99L428.38 26.77L424.06 26.77Z" fill="#1a1aff"/>
<path d="M431.59 24.18L433.75 27.96L429.43 27.96Z" fill="#1a1aff"/>
<path d="M439.65 26.56L441.81 30.34L437.49 30.34Z" fill="#1a1aff"/>
<path d="M447.7 30.13L449.86 33.91L445.54 33.91Z" fill="#1a1aff"/>
<path d="M453.07 32.51L455.23 36.29L450.91 36.29Z" fill="#1a1aff"/>
<path d="M299.49 47.76 L304.86 21.58 L309.69 19.2 L316.14 19.2 L325.8 19.2 L336.54 19.2 L347.28 19.2 L356.95 19.2 L366.61 19.2 L379.5 19.2 L389.7 19.2 L400.44 19.2 L411.18 22.77 L421.39 25.15 L432.13 27.53 L442.87 31.58 L452.53 34.67" stroke="#138a13" stroke-width="0.8" fill="none"/>
<path d="M299.49 45.16L302.09 47.76L299.49 50.36L296.89 47.76Z" fill="#138a13"/>
<path d="M304.86 18.98L307.46 21.58L304.86 24.18L302.26 21.58Z" fill="#138a13"/>
<path d="M309.69 16.6L312.29 19.2L309.69 21.8L307.09 19.2Z" fill="#138a13"/>
<path d="M316.14 16.6L318.74 19.2L316.14 21.8L313.54 19.2Z" fill="#138a13"/>
<path d="M325.8 16.6L328.4 19.2L325.8 21.8L323.2 19.2Z" fill="#138a13"/>
<path d="M336.54 16.6L339.14 19.2L336.54 21.8L333.94 19.2Z" fill="#138a13"/>
<path d="M347.28 16.6L349.88 19.2L347.28 21.8L344.68 19.2Z" fill="#138a13"/>
<path d="M356.95 16.6L359.55 19.2L356.95 21.8L354.35 19.2Z" fill="#138a13"/>
<path d="M366.61 16.6L369.21 19.2L366.61 21.8L364.01 19.2Z" fill="#138a13"/>
<path d="M379.5 16.6L382.1 19.2L379.5 21.8L376.9 19.2Z" fill="#138a13"/>
<path d="M389.7 16.6L392.3 19.2L389.7 21.8L387.1 19.2Z" fill="#138a13"/>
<path d="M400.44 16.6L403.04 19.2L400.44 21.8L397.84 19.2Z" fill="#138a13"/>
<path d="M411.18 20.17L413.78 22.77L411.18 25.37L408.58 22.77Z" fill="#138a13"/>
<path d="M421.39 22.55L423.99 25.15L421.39 27.75L418.79 25.15Z" fill="#138a13"/>
<path d="M432.13 24.93L434.73 27.53L432.13 30.13L429.53 27.53Z" fill="#138a13"/>
<path d="M442.87 28.98L445.47 31.58L442.87 34.18L440.27 31.58Z" fill="#138a13"/>
<path d="M452.53 32.07L455.13 34.67L452.53 37.27L449.93 34.67Z" fill="#138a13"/>
<path d="M289.6 61h14" stroke="#000" stroke-width="0.9"/>
<rect x="294.61" y="59.01" width="3.99" height="3.99" fill="#000"/>
<text x="306.4" y="64" font-size="8.45" fill="#222">Pt/SiO<tspan font-size="5.239" dy="1.6">2</tspan></text>
<path d="M289.6 69.9h14" stroke="#1a1aff" stroke-width="0.9"/>
<path d="M296.6 67.62L298.88 71.61L294.32 71.61Z" fill="#1a1aff"/>
<text x="306.4" y="72.9" font-size="8.45" fill="#222">1cFe-Pt/SiO<tspan font-size="5.239" dy="1.6">2</tspan></text>
<path d="M289.6 78.8h14" stroke="#ff1aff" stroke-width="0.9"/>
<path d="M296.6 81.08L298.88 77.09L294.32 77.09Z" fill="#ff1aff"/>
<text x="306.4" y="81.8" font-size="8.45" fill="#222">2cFe-Pt/SiO<tspan font-size="5.239" dy="1.6">2</tspan></text>
<path d="M289.6 87.7h14" stroke="#138a13" stroke-width="0.9"/>
<path d="M296.6 85.23L299.07 87.7L296.6 90.17L294.13 87.7Z" fill="#138a13"/>
<text x="306.4" y="90.7" font-size="8.45" fill="#222">3cFe-Pt/SiO<tspan font-size="5.239" dy="1.6">2</tspan></text>
<path d="M289.6 96.6h14" stroke="#ff1a1a" stroke-width="0.9"/>
<circle cx="296.6" cy="96.6" r="2.23" fill="#ff1a1a"/>
<text x="306.4" y="99.6" font-size="8.45" fill="#222">Pt/Fe<tspan font-size="5.239" dy="1.6">2</tspan><tspan dy="-1.6">O</tspan><tspan font-size="5.239" dy="1.6">3</tspan></text>
<text x="248" y="13.2" font-size="10.4" font-weight="bold" fill="#111">(c)</text>
<text transform="translate(261.6 77.5) rotate(-90)" text-anchor="middle" font-size="8.5" font-weight="bold" fill="#111">CO conversion (%)</text>
<text x="374" y="159.9" text-anchor="middle" font-size="9.2" font-weight="bold" fill="#111" textLength="67" lengthAdjust="spacingAndGlyphs">Temperature (K)</text>
<rect x="511.65" y="7.3" width="187.25" height="130.9" fill="none" stroke="#333" stroke-width="1.1"/>
<path d="M517 138.2v3.2 M517 7.3v3.2 M538.4 138.2v3.2 M538.4 7.3v3.2 M559.8 138.2v3.2 M559.8 7.3v3.2 M581.2 138.2v3.2 M581.2 7.3v3.2 M602.6 138.2v3.2 M602.6 7.3v3.2 M624 138.2v3.2 M624 7.3v3.2 M645.4 138.2v3.2 M645.4 7.3v3.2 M666.8 138.2v3.2 M666.8 7.3v3.2 M688.2 138.2v3.2 M688.2 7.3v3.2 M527.7 138.2v1.8 M527.7 7.3v1.8 M549.1 138.2v1.8 M549.1 7.3v1.8 M570.5 138.2v1.8 M570.5 7.3v1.8 M591.9 138.2v1.8 M591.9 7.3v1.8 M613.3 138.2v1.8 M613.3 7.3v1.8 M634.7 138.2v1.8 M634.7 7.3v1.8 M656.1 138.2v1.8 M656.1 7.3v1.8 M677.5 138.2v1.8 M677.5 7.3v1.8 M511.65 138.2h-3.8 M698.9 138.2h-3.8 M511.65 114.4h-3.8 M698.9 114.4h-3.8 M511.65 90.6h-3.8 M698.9 90.6h-3.8 M511.65 66.8h-3.8 M698.9 66.8h-3.8 M511.65 43h-3.8 M698.9 43h-3.8 M511.65 19.2h-3.8 M698.9 19.2h-3.8 M511.65 126.3h-2 M698.9 126.3h-2 M511.65 102.5h-2 M698.9 102.5h-2 M511.65 78.7h-2 M698.9 78.7h-2 M511.65 54.9h-2 M698.9 54.9h-2 M511.65 31.1h-2 M698.9 31.1h-2 M511.65 7.3h-2 M698.9 7.3h-2" stroke="#333" stroke-width="1" fill="none"/>
<text transform="translate(517 150.8) scale(0.92 1)" text-anchor="middle" font-size="8.5" fill="#222">160</text>
<text transform="translate(538.4 150.8) scale(0.92 1)" text-anchor="middle" font-size="8.5" fill="#222">200</text>
<text transform="translate(559.8 150.8) scale(0.92 1)" text-anchor="middle" font-size="8.5" fill="#222">240</text>
<text transform="translate(581.2 150.8) scale(0.92 1)" text-anchor="middle" font-size="8.5" fill="#222">280</text>
<text transform="translate(602.6 150.8) scale(0.92 1)" text-anchor="middle" font-size="8.5" fill="#222">320</text>
<text transform="translate(624 150.8) scale(0.92 1)" text-anchor="middle" font-size="8.5" fill="#222">360</text>
<text transform="translate(645.4 150.8) scale(0.92 1)" text-anchor="middle" font-size="8.5" fill="#222">400</text>
<text transform="translate(666.8 150.8) scale(0.92 1)" text-anchor="middle" font-size="8.5" fill="#222">440</text>
<text transform="translate(688.2 150.8) scale(0.92 1)" text-anchor="middle" font-size="8.5" fill="#222">480</text>
<text transform="translate(506.45 141.2) scale(0.92 1)" text-anchor="end" font-size="8.5" fill="#222">0</text>
<text transform="translate(506.45 117.4) scale(0.92 1)" text-anchor="end" font-size="8.5" fill="#222">20</text>
<text transform="translate(506.45 93.6) scale(0.92 1)" text-anchor="end" font-size="8.5" fill="#222">40</text>
<text transform="translate(506.45 69.8) scale(0.92 1)" text-anchor="end" font-size="8.5" fill="#222">60</text>
<text transform="translate(506.45 46) scale(0.92 1)" text-anchor="end" font-size="8.5" fill="#222">80</text>
<text transform="translate(506.45 22.2) scale(0.92 1)" text-anchor="end" font-size="8.5" fill="#222">100</text>
<path d="M529.84 19.2 L535.73 19.2 L541.08 19.2 L546.42 19.2 L554.45 19.2 L565.15 19.2 L575.85 19.2 L586.55 19.2 L594.58 19.2 L607.41 25.15 L614.8 41.45 L624.21 65.13 L629.67 79.65 L642.08 104.64 L652.89 119.64 L663 122.02 L673.75 123.68 L684.46 126.06" stroke="#ff1a1a" stroke-width="0.8" fill="none"/>
<circle cx="529.84" cy="19.2" r="2.35" fill="#ff1a1a"/>
<circle cx="535.73" cy="19.2" r="2.35" fill="#ff1a1a"/>
<circle cx="541.08" cy="19.2" r="2.35" fill="#ff1a1a"/>
<circle cx="546.42" cy="19.2" r="2.35" fill="#ff1a1a"/>
<circle cx="554.45" cy="19.2" r="2.35" fill="#ff1a1a"/>
<circle cx="565.15" cy="19.2" r="2.35" fill="#ff1a1a"/>
<circle cx="575.85" cy="19.2" r="2.35" fill="#ff1a1a"/>
<circle cx="586.55" cy="19.2" r="2.35" fill="#ff1a1a"/>
<circle cx="594.58" cy="19.2" r="2.35" fill="#ff1a1a"/>
<circle cx="607.41" cy="25.15" r="2.35" fill="#ff1a1a"/>
<circle cx="614.8" cy="41.45" r="2.35" fill="#ff1a1a"/>
<circle cx="624.21" cy="65.13" r="2.35" fill="#ff1a1a"/>
<circle cx="629.67" cy="79.65" r="2.35" fill="#ff1a1a"/>
<circle cx="642.08" cy="104.64" r="2.35" fill="#ff1a1a"/>
<circle cx="652.89" cy="119.64" r="2.35" fill="#ff1a1a"/>
<circle cx="663" cy="122.02" r="2.35" fill="#ff1a1a"/>
<circle cx="673.75" cy="123.68" r="2.35" fill="#ff1a1a"/>
<circle cx="684.46" cy="126.06" r="2.35" fill="#ff1a1a"/>
<path d="M530.91 19.2 L536.26 19.2 L543.75 19.2 L554.45 19.2 L570.5 19.2 L591.9 19.2 L613.3 19.2 L629.35 20.39 L645.4 22.77 L656.1 25.15 L666.8 29.91 L674.83 32.29 L682.85 35.86" stroke="#ff1aff" stroke-width="0.8" fill="none"/>
<path d="M530.91 21.36L533.07 17.58L528.75 17.58Z" fill="#ff1aff"/>
<path d="M536.26 21.36L538.42 17.58L534.1 17.58Z" fill="#ff1aff"/>
<path d="M543.75 21.36L545.91 17.58L541.59 17.58Z" fill="#ff1aff"/>
<path d="M554.45 21.36L556.61 17.58L552.29 17.58Z" fill="#ff1aff"/>
<path d="M570.5 21.36L572.66 17.58L568.34 17.58Z" fill="#ff1aff"/>
<path d="M591.9 21.36L594.06 17.58L589.74 17.58Z" fill="#ff1aff"/>
<path d="M613.3 21.36L615.46 17.58L611.14 17.58Z" fill="#ff1aff"/>
<path d="M629.35 22.55L631.51 18.77L627.19 18.77Z" fill="#ff1aff"/>
<path d="M645.4 24.93L647.56 21.15L643.24 21.15Z" fill="#ff1aff"/>
<path d="M656.1 27.31L658.26 23.53L653.94 23.53Z" fill="#ff1aff"/>
<path d="M666.8 32.07L668.96 28.29L664.64 28.29Z" fill="#ff1aff"/>
<path d="M674.83 34.45L676.99 30.67L672.67 30.67Z" fill="#ff1aff"/>
<path d="M682.85 38.02L685.01 34.24L680.69 34.24Z" fill="#ff1aff"/>
<path d="M536.26 19.2 L541.61 19.2 L554.45 19.2 L581.2 19.2 L607.95 19.2 L634.7 19.2 L650.75 20.39 L661.45 23.96 L669.48 27.53 L677.5 31.1 L682.85 33.48" stroke="#1a1aff" stroke-width="0.8" fill="none"/>
<path d="M536.26 17.04L538.42 20.82L534.1 20.82Z" fill="#1a1aff"/>
<path d="M541.61 17.04L543.77 20.82L539.45 20.82Z" fill="#1a1aff"/>
<path d="M554.45 17.04L556.61 20.82L552.29 20.82Z" fill="#1a1aff"/>
<path d="M581.2 17.04L583.36 20.82L579.04 20.82Z" fill="#1a1aff"/>
<path d="M607.95 17.04L610.11 20.82L605.79 20.82Z" fill="#1a1aff"/>
<path d="M634.7 17.04L636.86 20.82L632.54 20.82Z" fill="#1a1aff"/>
<path d="M650.75 18.23L652.91 22.01L648.59 22.01Z" fill="#1a1aff"/>
<path d="M661.45 21.8L663.61 25.58L659.29 25.58Z" fill="#1a1aff"/>
<path d="M669.48 25.37L671.63 29.15L667.32 29.15Z" fill="#1a1aff"/>
<path d="M677.5 28.94L679.66 32.72L675.34 32.72Z" fill="#1a1aff"/>
<path d="M682.85 31.32L685.01 35.1L680.69 35.1Z" fill="#1a1aff"/>
<path d="M529.84 19.2 L535.73 19.2 L546.42 19.2 L565.15 19.2 L586.55 19.2 L601.53 19.2 L618.65 19.2 L634.7 19.2 L649.09 19.2 L659.85 22.77 L668.94 40.62 L675.09 42.29 L684.99 43.36" stroke="#000" stroke-width="0.8" fill="none"/>
<rect x="527.85" y="17.2" width="3.99" height="3.99" fill="#000"/>
<rect x="533.73" y="17.2" width="3.99" height="3.99" fill="#000"/>
<rect x="544.43" y="17.2" width="3.99" height="3.99" fill="#000"/>
<rect x="563.15" y="17.2" width="3.99" height="3.99" fill="#000"/>
<rect x="584.55" y="17.2" width="3.99" height="3.99" fill="#000"/>
<rect x="599.53" y="17.2" width="3.99" height="3.99" fill="#000"/>
<rect x="616.65" y="17.2" width="3.99" height="3.99" fill="#000"/>
<rect x="632.71" y="17.2" width="3.99" height="3.99" fill="#000"/>
<rect x="647.1" y="17.2" width="3.99" height="3.99" fill="#000"/>
<rect x="657.85" y="20.77" width="3.99" height="3.99" fill="#000"/>
<rect x="666.95" y="38.62" width="3.99" height="3.99" fill="#000"/>
<rect x="673.1" y="40.29" width="3.99" height="3.99" fill="#000"/>
<rect x="683" y="41.36" width="3.99" height="3.99" fill="#000"/>
<path d="M529.84 19.2 L535.73 19.2 L540 19.2 L546.42 19.2 L556.05 19.2 L566.75 19.2 L577.46 19.2 L587.09 19.2 L596.72 19.2 L609.56 19.2 L619.72 19.2 L630.42 19.2 L641.12 21.58 L651.28 23.96 L661.99 27.53 L672.68 31.58 L682.32 34.67" stroke="#138a13" stroke-width="0.8" fill="none"/>
<path d="M529.84 16.6L532.44 19.2L529.84 21.8L527.24 19.2Z" fill="#138a13"/>
<path d="M535.73 16.6L538.33 19.2L535.73 21.8L533.12 19.2Z" fill="#138a13"/>
<path d="M540 16.6L542.61 19.2L540 21.8L537.4 19.2Z" fill="#138a13"/>
<path d="M546.42 16.6L549.02 19.2L546.42 21.8L543.82 19.2Z" fill="#138a13"/>
<path d="M556.05 16.6L558.65 19.2L556.05 21.8L553.45 19.2Z" fill="#138a13"/>
<path d="M566.75 16.6L569.36 19.2L566.75 21.8L564.15 19.2Z" fill="#138a13"/>
<path d="M577.46 16.6L580.06 19.2L577.46 21.8L574.86 19.2Z" fill="#138a13"/>
<path d="M587.09 16.6L589.69 19.2L587.09 21.8L584.49 19.2Z" fill="#138a13"/>
<path d="M596.72 16.6L599.32 19.2L596.72 21.8L594.12 19.2Z" fill="#138a13"/>
<path d="M609.56 16.6L612.16 19.2L609.56 21.8L606.96 19.2Z" fill="#138a13"/>
<path d="M619.72 16.6L622.32 19.2L619.72 21.8L617.12 19.2Z" fill="#138a13"/>
<path d="M630.42 16.6L633.02 19.2L630.42 21.8L627.82 19.2Z" fill="#138a13"/>
<path d="M641.12 18.98L643.72 21.58L641.12 24.18L638.52 21.58Z" fill="#138a13"/>
<path d="M651.28 21.36L653.88 23.96L651.28 26.56L648.68 23.96Z" fill="#138a13"/>
<path d="M661.99 24.93L664.59 27.53L661.99 30.13L659.38 27.53Z" fill="#138a13"/>
<path d="M672.68 28.98L675.28 31.58L672.68 34.18L670.08 31.58Z" fill="#138a13"/>
<path d="M682.32 32.07L684.92 34.67L682.32 37.27L679.72 34.67Z" fill="#138a13"/>
<path d="M519.5 61h14" stroke="#000" stroke-width="0.9"/>
<rect x="524.5" y="59.01" width="3.99" height="3.99" fill="#000"/>
<text x="536.3" y="64" font-size="8.45" fill="#222">Pt/SiO<tspan font-size="5.239" dy="1.6">2</tspan></text>
<path d="M519.5 69.9h14" stroke="#1a1aff" stroke-width="0.9"/>
<path d="M526.5 67.62L528.78 71.61L524.22 71.61Z" fill="#1a1aff"/>
<text x="536.3" y="72.9" font-size="8.45" fill="#222">1cFe-Pt/SiO<tspan font-size="5.239" dy="1.6">2</tspan></text>
<path d="M519.5 78.8h14" stroke="#ff1aff" stroke-width="0.9"/>
<path d="M526.5 81.08L528.78 77.09L524.22 77.09Z" fill="#ff1aff"/>
<text x="536.3" y="81.8" font-size="8.45" fill="#222">2cFe-Pt/SiO<tspan font-size="5.239" dy="1.6">2</tspan></text>
<path d="M519.5 87.7h14" stroke="#138a13" stroke-width="0.9"/>
<path d="M526.5 85.23L528.97 87.7L526.5 90.17L524.03 87.7Z" fill="#138a13"/>
<text x="536.3" y="90.7" font-size="8.45" fill="#222">3cFe-Pt/SiO<tspan font-size="5.239" dy="1.6">2</tspan></text>
<path d="M519.5 96.6h14" stroke="#ff1a1a" stroke-width="0.9"/>
<circle cx="526.5" cy="96.6" r="2.23" fill="#ff1a1a"/>
<text x="536.3" y="99.6" font-size="8.45" fill="#222">Pt/Fe<tspan font-size="5.239" dy="1.6">2</tspan><tspan dy="-1.6">O</tspan><tspan font-size="5.239" dy="1.6">3</tspan></text>
<text x="477" y="13.2" font-size="10.4" font-weight="bold" fill="#111">(d)</text>
<text transform="translate(492.6 78.3) rotate(-90)" text-anchor="middle" font-size="8.6" font-weight="bold" fill="#111" textLength="76.5" lengthAdjust="spacingAndGlyphs">CO selectivity (%)</text>
<text x="605" y="160" text-anchor="middle" font-size="9.2" font-weight="bold" fill="#111" textLength="67" lengthAdjust="spacingAndGlyphs">Temperature (K)</text>
<rect x="281.36" y="169.13" width="187.92" height="125.37" fill="none" stroke="#333" stroke-width="1.1"/>
<path d="M291.8 294.5v3.2 M312.68 294.5v3.2 M333.56 294.5v3.2 M354.44 294.5v3.2 M375.32 294.5v3.2 M396.2 294.5v3.2 M417.08 294.5v3.2 M437.96 294.5v3.2 M458.84 294.5v3.2 M302.24 294.5v1.8 M323.12 294.5v1.8 M344 294.5v1.8 M364.88 294.5v1.8 M385.76 294.5v1.8 M406.64 294.5v1.8 M427.52 294.5v1.8 M448.4 294.5v1.8 M281.36 294.5h-3.8 M469.28 294.5h-3.8 M281.36 270.62h-3.8 M469.28 270.62h-3.8 M281.36 246.74h-3.8 M469.28 246.74h-3.8 M281.36 222.86h-3.8 M469.28 222.86h-3.8 M281.36 198.98h-3.8 M469.28 198.98h-3.8 M281.36 175.1h-3.8 M469.28 175.1h-3.8 M281.36 282.56h-2 M469.28 282.56h-2 M281.36 258.68h-2 M469.28 258.68h-2 M281.36 234.8h-2 M469.28 234.8h-2 M281.36 210.92h-2 M469.28 210.92h-2 M281.36 187.04h-2 M469.28 187.04h-2" stroke="#333" stroke-width="1" fill="none"/>
<text transform="translate(291.8 307.1) scale(0.92 1)" text-anchor="middle" font-size="8.5" fill="#222">0</text>
<text transform="translate(312.68 307.1) scale(0.92 1)" text-anchor="middle" font-size="8.5" fill="#222">20</text>
<text transform="translate(333.56 307.1) scale(0.92 1)" text-anchor="middle" font-size="8.5" fill="#222">40</text>
<text transform="translate(354.44 307.1) scale(0.92 1)" text-anchor="middle" font-size="8.5" fill="#222">60</text>
<text transform="translate(375.32 307.1) scale(0.92 1)" text-anchor="middle" font-size="8.5" fill="#222">80</text>
<text transform="translate(396.2 307.1) scale(0.92 1)" text-anchor="middle" font-size="8.5" fill="#222">100</text>
<text transform="translate(417.08 307.1) scale(0.92 1)" text-anchor="middle" font-size="8.5" fill="#222">120</text>
<text transform="translate(437.96 307.1) scale(0.92 1)" text-anchor="middle" font-size="8.5" fill="#222">140</text>
<text transform="translate(458.84 307.1) scale(0.92 1)" text-anchor="middle" font-size="8.5" fill="#222">160</text>
<text transform="translate(276.16 297.5) scale(0.92 1)" text-anchor="end" font-size="8.5" fill="#222">0</text>
<text transform="translate(276.16 273.62) scale(0.92 1)" text-anchor="end" font-size="8.5" fill="#222">20</text>
<text transform="translate(276.16 249.74) scale(0.92 1)" text-anchor="end" font-size="8.5" fill="#222">40</text>
<text transform="translate(276.16 225.86) scale(0.92 1)" text-anchor="end" font-size="8.5" fill="#222">60</text>
<text transform="translate(276.16 201.98) scale(0.92 1)" text-anchor="end" font-size="8.5" fill="#222">80</text>
<text transform="translate(276.16 178.1) scale(0.92 1)" text-anchor="end" font-size="8.5" fill="#222">100</text>
<path d="M291.8 175.16 L292.84 175.16 L293.89 175.16 L294.93 175.16 L295.98 175.16 L297.02 175.16 L298.06 175.16 L299.11 175.16 L300.15 175.16 L301.2 175.16 L302.24 175.16 L303.28 175.16 L304.33 175.16 L305.37 175.16 L306.42 175.16 L307.46 175.16 L308.5 175.16 L309.55 175.16 L310.59 175.16 L311.64 175.16 L312.68 175.16 L313.72 175.16 L314.77 175.16 L315.81 175.16 L316.86 175.16 L317.9 175.16 L318.94 175.16 L319.99 175.16 L321.03 175.16 L322.08 175.16 L323.12 175.16 L324.16 175.16 L325.21 175.16 L326.25 175.16 L327.3 175.16 L328.34 175.16 L329.38 175.16 L330.43 175.16 L331.47 175.16 L332.52 175.16 L333.56 175.16 L334.6 175.16 L335.65 175.16 L336.69 175.16 L337.74 175.16 L338.78 175.16 L339.82 175.16 L340.87 175.16 L341.91 175.88 L342.96 175.88 L344 175.88 L345.04 175.88 L346.09 175.88 L347.13 175.88 L348.18 175.88 L349.22 175.88 L350.26 175.64 L351.31 175.64 L352.35 175.65 L353.4 175.65 L354.44 175.66 L355.48 175.66 L356.53 175.67 L357.57 175.67 L358.62 175.68 L359.66 175.68 L360.7 175.69 L361.75 175.69 L362.79 175.7 L363.84 175.7 L364.88 175.71 L365.92 175.71 L366.97 175.72 L368.01 175.72 L369.06 175.72 L370.1 175.73 L371.14 175.73 L372.19 175.74 L373.23 175.74 L374.28 175.75 L375.32 175.75 L376.36 175.76 L377.41 175.76 L378.45 175.77 L379.5 175.77 L380.54 175.78 L381.58 175.78 L382.63 175.79 L383.67 175.79 L384.72 175.8 L385.76 175.8 L386.8 175.81 L387.85 175.81 L388.89 175.82 L389.94 175.82 L390.98 175.83 L392.02 175.83 L393.07 175.83 L394.11 175.84 L395.16 175.84 L396.2 175.85 L397.24 175.85 L398.29 175.86 L399.33 175.86 L400.38 175.87 L401.42 175.87 L402.46 175.88 L403.51 175.88 L404.55 175.89 L405.6 175.89 L406.64 175.9 L407.68 175.9 L408.73 175.91 L409.77 175.91 L410.82 175.92 L411.86 175.92 L412.9 175.28 L413.95 175.28 L414.99 175.28 L416.04 175.28 L417.08 175.28 L418.12 176.12 L419.17 176.12 L420.21 176.12 L421.26 176.12 L422.3 176.12 L423.34 176.12 L424.39 176.12 L425.43 176.12 L426.48 176.12 L427.52 176.12 L428.56 176.12 L429.61 176.12 L430.65 176.12 L431.7 176.12 L432.74 176.12 L433.78 176.12 L434.83 176.18 L435.87 176.24 L436.92 176.3 L437.96 176.36 L439 176.41 L440.05 176.47 L441.09 176.53 L442.14 176.59 L443.18 176.65 L444.22 176.71 L445.27 176.77 L446.31 176.83 L447.36 176.89 L448.4 176.95 L449.44 177.01 L450.49 177.07 L451.53 177.13 L452.58 177.19 L453.62 177.25 L454.66 177.31 L455.71 177.37 L456.75 177.43 L457.8 177.49 L458.84 177.55 L459.88 177.61 L460.93 177.67" stroke="#1a1aff" stroke-width="3.2" fill="none" stroke-linecap="butt" stroke-linejoin="round"/>
<path d="M291.8 173.06L292.7 175.36L290.9 175.36Z M292.84 173.06L293.74 175.36L291.94 175.36Z M293.89 173.06L294.79 175.36L292.99 175.36Z M294.93 173.06L295.83 175.36L294.03 175.36Z M295.98 173.06L296.88 175.36L295.08 175.36Z M297.02 173.06L297.92 175.36L296.12 175.36Z M298.06 173.06L298.96 175.36L297.16 175.36Z M299.11 173.06L300.01 175.36L298.21 175.36Z M300.15 173.06L301.05 175.36L299.25 175.36Z M301.2 173.06L302.1 175.36L300.3 175.36Z M302.24 173.06L303.14 175.36L301.34 175.36Z M303.28 173.06L304.18 175.36L302.38 175.36Z M304.33 173.06L305.23 175.36L303.43 175.36Z M305.37 173.06L306.27 175.36L304.47 175.36Z M306.42 173.06L307.32 175.36L305.52 175.36Z M307.46 173.06L308.36 175.36L306.56 175.36Z M308.5 173.06L309.4 175.36L307.6 175.36Z M309.55 173.06L310.45 175.36L308.65 175.36Z M310.59 173.06L311.49 175.36L309.69 175.36Z M311.64 173.06L312.54 175.36L310.74 175.36Z M312.68 173.06L313.58 175.36L311.78 175.36Z M313.72 173.06L314.62 175.36L312.82 175.36Z M314.77 173.06L315.67 175.36L313.87 175.36Z M315.81 173.06L316.71 175.36L314.91 175.36Z M316.86 173.06L317.76 175.36L315.96 175.36Z M317.9 173.06L318.8 175.36L317 175.36Z M318.94 173.06L319.84 175.36L318.04 175.36Z M319.99 173.06L320.89 175.36L319.09 175.36Z M321.03 173.06L321.93 175.36L320.13 175.36Z M322.08 173.06L322.98 175.36L321.18 175.36Z M323.12 173.06L324.02 175.36L322.22 175.36Z M324.16 173.06L325.06 175.36L323.26 175.36Z M325.21 173.06L326.11 175.36L324.31 175.36Z M326.25 173.06L327.15 175.36L325.35 175.36Z M327.3 173.06L328.2 175.36L326.4 175.36Z M328.34 173.06L329.24 175.36L327.44 175.36Z M329.38 173.06L330.28 175.36L328.48 175.36Z M330.43 173.06L331.33 175.36L329.53 175.36Z M331.47 173.06L332.37 175.36L330.57 175.36Z M332.52 173.06L333.42 175.36L331.62 175.36Z M333.56 173.06L334.46 175.36L332.66 175.36Z M334.6 173.06L335.5 175.36L333.7 175.36Z M335.65 173.06L336.55 175.36L334.75 175.36Z M336.69 173.06L337.59 175.36L335.79 175.36Z M337.74 173.06L338.64 175.36L336.84 175.36Z M338.78 173.06L339.68 175.36L337.88 175.36Z M339.82 173.06L340.72 175.36L338.92 175.36Z M340.87 173.06L341.77 175.36L339.97 175.36Z M341.91 173.78L342.81 176.08L341.01 176.08Z M342.96 173.78L343.86 176.08L342.06 176.08Z M344 173.78L344.9 176.08L343.1 176.08Z M345.04 173.78L345.94 176.08L344.14 176.08Z M346.09 173.78L346.99 176.08L345.19 176.08Z M347.13 173.78L348.03 176.08L346.23 176.08Z M348.18 173.78L349.08 176.08L347.28 176.08Z M349.22 173.78L350.12 176.08L348.32 176.08Z M350.26 173.54L351.16 175.84L349.36 175.84Z M351.31 173.54L352.21 175.84L350.41 175.84Z M352.35 173.55L353.25 175.85L351.45 175.85Z M353.4 173.55L354.3 175.85L352.5 175.85Z M354.44 173.56L355.34 175.86L353.54 175.86Z M355.48 173.56L356.38 175.86L354.58 175.86Z M356.53 173.57L357.43 175.87L355.63 175.87Z M357.57 173.57L358.47 175.87L356.67 175.87Z M358.62 173.58L359.52 175.88L357.72 175.88Z M359.66 173.58L360.56 175.88L358.76 175.88Z M360.7 173.59L361.6 175.89L359.8 175.89Z M361.75 173.59L362.65 175.89L360.85 175.89Z M362.79 173.6L363.69 175.9L361.89 175.9Z M363.84 173.6L364.74 175.9L362.94 175.9Z M364.88 173.61L365.78 175.91L363.98 175.91Z M365.92 173.61L366.82 175.91L365.02 175.91Z M366.97 173.62L367.87 175.92L366.07 175.92Z M368.01 173.62L368.91 175.92L367.11 175.92Z M369.06 173.62L369.96 175.92L368.16 175.92Z M370.1 173.63L371 175.93L369.2 175.93Z M371.14 173.63L372.04 175.93L370.24 175.93Z M372.19 173.64L373.09 175.94L371.29 175.94Z M373.23 173.64L374.13 175.94L372.33 175.94Z M374.28 173.65L375.18 175.95L373.38 175.95Z M375.32 173.65L376.22 175.95L374.42 175.95Z M376.36 173.66L377.26 175.96L375.46 175.96Z M377.41 173.66L378.31 175.96L376.51 175.96Z M378.45 173.67L379.35 175.97L377.55 175.97Z M379.5 173.67L380.4 175.97L378.6 175.97Z M380.54 173.68L381.44 175.98L379.64 175.98Z M381.58 173.68L382.48 175.98L380.68 175.98Z M382.63 173.69L383.53 175.99L381.73 175.99Z M383.67 173.69L384.57 175.99L382.77 175.99Z M384.72 173.7L385.62 176L383.82 176Z M385.76 173.7L386.66 176L384.86 176Z M386.8 173.71L387.7 176.01L385.9 176.01Z M387.85 173.71L388.75 176.01L386.95 176.01Z M388.89 173.72L389.79 176.02L387.99 176.02Z M389.94 173.72L390.84 176.02L389.04 176.02Z M390.98 173.73L391.88 176.03L390.08 176.03Z M392.02 173.73L392.92 176.03L391.12 176.03Z M393.07 173.73L393.97 176.03L392.17 176.03Z M394.11 173.74L395.01 176.04L393.21 176.04Z M395.16 173.74L396.06 176.04L394.26 176.04Z M396.2 173.75L397.1 176.05L395.3 176.05Z M397.24 173.75L398.14 176.05L396.34 176.05Z M398.29 173.76L399.19 176.06L397.39 176.06Z M399.33 173.76L400.23 176.06L398.43 176.06Z M400.38 173.77L401.28 176.07L399.48 176.07Z M401.42 173.77L402.32 176.07L400.52 176.07Z M402.46 173.78L403.36 176.08L401.56 176.08Z M403.51 173.78L404.41 176.08L402.61 176.08Z M404.55 173.79L405.45 176.09L403.65 176.09Z M405.6 173.79L406.5 176.09L404.7 176.09Z M406.64 173.8L407.54 176.1L405.74 176.1Z M407.68 173.8L408.58 176.1L406.78 176.1Z M408.73 173.81L409.63 176.11L407.83 176.11Z M409.77 173.81L410.67 176.11L408.87 176.11Z M410.82 173.82L411.72 176.12L409.92 176.12Z M411.86 173.82L412.76 176.12L410.96 176.12Z M412.9 173.18L413.8 175.48L412 175.48Z M413.95 173.18L414.85 175.48L413.05 175.48Z M414.99 173.18L415.89 175.48L414.09 175.48Z M416.04 173.18L416.94 175.48L415.14 175.48Z M417.08 173.18L417.98 175.48L416.18 175.48Z M418.12 174.02L419.02 176.32L417.22 176.32Z M419.17 174.02L420.07 176.32L418.27 176.32Z M420.21 174.02L421.11 176.32L419.31 176.32Z M421.26 174.02L422.16 176.32L420.36 176.32Z M422.3 174.02L423.2 176.32L421.4 176.32Z M423.34 174.02L424.24 176.32L422.44 176.32Z M424.39 174.02L425.29 176.32L423.49 176.32Z M425.43 174.02L426.33 176.32L424.53 176.32Z M426.48 174.02L427.38 176.32L425.58 176.32Z M427.52 174.02L428.42 176.32L426.62 176.32Z M428.56 174.02L429.46 176.32L427.66 176.32Z M429.61 174.02L430.51 176.32L428.71 176.32Z M430.65 174.02L431.55 176.32L429.75 176.32Z M431.7 174.02L432.6 176.32L430.8 176.32Z M432.74 174.02L433.64 176.32L431.84 176.32Z M433.78 174.02L434.68 176.32L432.88 176.32Z M434.83 174.08L435.73 176.38L433.93 176.38Z M435.87 174.14L436.77 176.44L434.97 176.44Z M436.92 174.2L437.82 176.5L436.02 176.5Z M437.96 174.26L438.86 176.56L437.06 176.56Z M439 174.31L439.9 176.61L438.1 176.61Z M440.05 174.37L440.95 176.67L439.15 176.67Z M441.09 174.43L441.99 176.73L440.19 176.73Z M442.14 174.49L443.04 176.79L441.24 176.79Z M443.18 174.55L444.08 176.85L442.28 176.85Z M444.22 174.61L445.12 176.91L443.32 176.91Z M445.27 174.67L446.17 176.97L444.37 176.97Z M446.31 174.73L447.21 177.03L445.41 177.03Z M447.36 174.79L448.26 177.09L446.46 177.09Z M448.4 174.85L449.3 177.15L447.5 177.15Z M449.44 174.91L450.34 177.21L448.54 177.21Z M450.49 174.97L451.39 177.27L449.59 177.27Z M451.53 175.03L452.43 177.33L450.63 177.33Z M452.58 175.09L453.48 177.39L451.68 177.39Z M453.62 175.15L454.52 177.45L452.72 177.45Z M454.66 175.21L455.56 177.51L453.76 177.51Z M455.71 175.27L456.61 177.57L454.81 177.57Z M456.75 175.33L457.65 177.63L455.85 177.63Z M457.8 175.39L458.7 177.69L456.9 177.69Z M458.84 175.45L459.74 177.75L457.94 177.75Z M459.88 175.51L460.78 177.81L458.98 177.81Z M460.93 175.57L461.83 177.87L460.03 177.87Z" fill="#1a1aff"/>
<text x="247" y="176.2" font-size="10.4" font-weight="bold" fill="#111">(e)</text>
<text transform="translate(261.5 235.5) rotate(-90)" text-anchor="middle" font-size="8.4" font-weight="bold" fill="#111" textLength="71" lengthAdjust="spacingAndGlyphs">CO conversion (%)</text>
<text x="376" y="315.2" text-anchor="middle" font-size="9.2" font-weight="bold" fill="#111" textLength="34.3" lengthAdjust="spacingAndGlyphs">Time (h)</text>
<text transform="translate(432.4 193.8) scale(0.88 1)" font-size="9" fill="#222">353 K</text>
<text transform="translate(417.2 289.8) scale(0.9 1)" font-size="9.1" fill="#222">1cFe-Pt/SiO<tspan font-size="5.4" dy="1.6">2</tspan></text>
<rect x="511.7" y="168.85" width="187.3" height="125.25" fill="none" stroke="#333" stroke-width="1.1"/>
<path d="M511.7 294.1h-3.8 M511.7 260.7h-3.8 M511.7 227.3h-3.8 M511.7 193.9h-3.8 M511.7 277.4h-2 M511.7 244h-2 M511.7 210.6h-2 M511.7 177.2h-2" stroke="#333" stroke-width="1" fill="none"/>
<text transform="translate(506.5 297.1) scale(0.92 1)" text-anchor="end" font-size="8.5" fill="#222">0</text>
<text transform="translate(506.5 263.7) scale(0.92 1)" text-anchor="end" font-size="8.5" fill="#222">2</text>
<text transform="translate(506.5 230.3) scale(0.92 1)" text-anchor="end" font-size="8.5" fill="#222">4</text>
<text transform="translate(506.5 196.9) scale(0.92 1)" text-anchor="end" font-size="8.5" fill="#222">6</text>
<rect x="526.2" y="206.93" width="21.6" height="87.17" fill="#0000ff" stroke="#222" stroke-width="0.6"/>
<rect x="560" y="200.25" width="23.5" height="93.85" fill="#ff00ff" stroke="#222" stroke-width="0.6"/>
<rect x="598" y="204.92" width="22.4" height="89.18" fill="#008000" stroke="#222" stroke-width="0.6"/>
<rect x="634.3" y="291.09" width="22.5" height="3.01" fill="#ff0000" stroke="#222" stroke-width="0.6"/>
<text x="477.5" y="176.2" font-size="10.4" font-weight="bold" fill="#111">(f)</text>
<text transform="translate(516.5 178.6) scale(0.88 1)" font-size="8.4" fill="#222">300 K</text>
<polygon points="640.7,198.1 694.7,200.6 694.7,204 683.3,217.3 628.8,214.4 628.8,210" fill="#8c8862"/>
<path d="M632.21 211.18L644.08 198.86 M636.75 211.42L648.58 199.06 M641.29 211.66L653.08 199.27 M645.83 211.91L657.58 199.48 M650.37 212.15L662.08 199.69 M654.91 212.39L666.58 199.9 M659.46 212.63L671.08 200.11 M664 212.87L675.58 200.31 M668.54 213.11L680.08 200.52 M673.08 213.36L684.58 200.73 M677.62 213.6L689.08 200.94 M682.16 213.84L693.58 201.15" stroke="#e2deb4" stroke-width="1.61" stroke-linecap="round" fill="none"/>
<path d="M629.94 211.06L641.83 198.75 M634.48 211.3L646.33 198.96 M639.02 211.54L650.83 199.17 M643.56 211.79L655.33 199.38 M648.1 212.03L659.83 199.59 M652.64 212.27L664.33 199.79 M657.19 212.51L668.83 200 M661.73 212.75L673.33 200.21 M666.27 212.99L677.83 200.42 M670.81 213.24L682.33 200.63 M675.35 213.48L686.83 200.84 M679.89 213.72L691.33 201.04" stroke="#e8e4bc" stroke-width="1.7" stroke-linecap="round" fill="none"/>
<circle cx="629.94" cy="211.46" r="1.4" fill="url(#grod)" stroke="#6f6a48" stroke-width="0.3"/><circle cx="632.21" cy="213.46" r="1.43" fill="url(#grod)" stroke="#6f6a48" stroke-width="0.3"/><circle cx="634.48" cy="211.7" r="1.4" fill="url(#grod)" stroke="#6f6a48" stroke-width="0.3"/><circle cx="636.75" cy="213.7" r="1.43" fill="url(#grod)" stroke="#6f6a48" stroke-width="0.3"/><circle cx="639.02" cy="211.94" r="1.4" fill="url(#grod)" stroke="#6f6a48" stroke-width="0.3"/><circle cx="641.29" cy="213.94" r="1.43" fill="url(#grod)" stroke="#6f6a48" stroke-width="0.3"/><circle cx="643.56" cy="212.19" r="1.4" fill="url(#grod)" stroke="#6f6a48" stroke-width="0.3"/><circle cx="645.83" cy="214.19" r="1.43" fill="url(#grod)" stroke="#6f6a48" stroke-width="0.3"/><circle cx="648.1" cy="212.43" r="1.4" fill="url(#grod)" stroke="#6f6a48" stroke-width="0.3"/><circle cx="650.37" cy="214.43" r="1.43" fill="url(#grod)" stroke="#6f6a48" stroke-width="0.3"/><circle cx="652.64" cy="212.67" r="1.4" fill="url(#grod)" stroke="#6f6a48" stroke-width="0.3"/><circle cx="654.91" cy="214.67" r="1.43" fill="url(#grod)" stroke="#6f6a48" stroke-width="0.3"/><circle cx="657.19" cy="212.91" r="1.4" fill="url(#grod)" stroke="#6f6a48" stroke-width="0.3"/><circle cx="659.46" cy="214.91" r="1.43" fill="url(#grod)" stroke="#6f6a48" stroke-width="0.3"/><circle cx="661.73" cy="213.15" r="1.4" fill="url(#grod)" stroke="#6f6a48" stroke-width="0.3"/><circle cx="664" cy="215.15" r="1.43" fill="url(#grod)" stroke="#6f6a48" stroke-width="0.3"/><circle cx="666.27" cy="213.39" r="1.4" fill="url(#grod)" stroke="#6f6a48" stroke-width="0.3"/><circle cx="668.54" cy="215.39" r="1.43" fill="url(#grod)" stroke="#6f6a48" stroke-width="0.3"/><circle cx="670.81" cy="213.64" r="1.4" fill="url(#grod)" stroke="#6f6a48" stroke-width="0.3"/><circle cx="673.08" cy="215.64" r="1.43" fill="url(#grod)" stroke="#6f6a48" stroke-width="0.3"/><circle cx="675.35" cy="213.88" r="1.4" fill="url(#grod)" stroke="#6f6a48" stroke-width="0.3"/><circle cx="677.62" cy="215.88" r="1.43" fill="url(#grod)" stroke="#6f6a48" stroke-width="0.3"/><circle cx="679.89" cy="214.12" r="1.4" fill="url(#grod)" stroke="#6f6a48" stroke-width="0.3"/><circle cx="682.16" cy="216.12" r="1.43" fill="url(#grod)" stroke="#6f6a48" stroke-width="0.3"/>
<polygon points="653,178.8 676,178.8 685,190 685.5,201.5 679.5,206.2 650,205.5 645.5,199.6 645.5,194" fill="url(#psph2)" />
<polygon points="653,178.8 676,178.8 685,190" fill="none" stroke="#e02010" stroke-width="0.8" stroke-dasharray="1.2 2"/>
<polygon points="653,178.8 645.5,194" fill="none" stroke="#e02010" stroke-width="0.8" stroke-dasharray="1.2 2"/>
<circle cx="654.05" cy="181.88" r="0.6" fill="#e0180a"/><circle cx="654.71" cy="179.73" r="0.6" fill="#e0180a"/><circle cx="656.24" cy="181.38" r="0.6" fill="#e0180a"/><circle cx="655" cy="181" r="0.85" fill="#f39a2c"/><circle cx="664.16" cy="181.29" r="0.6" fill="#e0180a"/><circle cx="662.8" cy="179.49" r="0.6" fill="#e0180a"/><circle cx="665.04" cy="179.22" r="0.6" fill="#e0180a"/><circle cx="664" cy="180" r="0.85" fill="#f39a2c"/><circle cx="673.66" cy="182.12" r="0.6" fill="#e0180a"/><circle cx="671.7" cy="181.01" r="0.6" fill="#e0180a"/><circle cx="673.64" cy="179.87" r="0.6" fill="#e0180a"/><circle cx="673" cy="181" r="0.85" fill="#f39a2c"/><circle cx="683.11" cy="186.33" r="0.6" fill="#e0180a"/><circle cx="682.03" cy="188.3" r="0.6" fill="#e0180a"/><circle cx="680.86" cy="186.37" r="0.6" fill="#e0180a"/><circle cx="682" cy="187" r="0.85" fill="#f39a2c"/><circle cx="648.85" cy="188.39" r="0.6" fill="#e0180a"/><circle cx="651.1" cy="188.31" r="0.6" fill="#e0180a"/><circle cx="650.05" cy="190.3" r="0.6" fill="#e0180a"/><circle cx="650" cy="189" r="0.85" fill="#f39a2c"/><circle cx="659.52" cy="185.79" r="0.6" fill="#e0180a"/><circle cx="661.29" cy="187.19" r="0.6" fill="#e0180a"/><circle cx="659.19" cy="188.02" r="0.6" fill="#e0180a"/><circle cx="660" cy="187" r="0.85" fill="#f39a2c"/><circle cx="668.77" cy="187.58" r="0.6" fill="#e0180a"/><circle cx="670.98" cy="187.15" r="0.6" fill="#e0180a"/><circle cx="670.25" cy="189.28" r="0.6" fill="#e0180a"/><circle cx="670" cy="188" r="0.85" fill="#f39a2c"/><circle cx="678.03" cy="195.87" r="0.6" fill="#e0180a"/><circle cx="678.73" cy="193.73" r="0.6" fill="#e0180a"/><circle cx="680.24" cy="195.4" r="0.6" fill="#e0180a"/><circle cx="679" cy="195" r="0.85" fill="#f39a2c"/><circle cx="647.85" cy="197.71" r="0.6" fill="#e0180a"/><circle cx="649.19" cy="199.51" r="0.6" fill="#e0180a"/><circle cx="646.96" cy="199.78" r="0.6" fill="#e0180a"/><circle cx="648" cy="199" r="0.85" fill="#f39a2c"/><circle cx="655.85" cy="195.4" r="0.6" fill="#e0180a"/><circle cx="658.1" cy="195.3" r="0.6" fill="#e0180a"/><circle cx="657.06" cy="197.3" r="0.6" fill="#e0180a"/><circle cx="657" cy="196" r="0.85" fill="#f39a2c"/><circle cx="667.25" cy="196.72" r="0.6" fill="#e0180a"/><circle cx="667.98" cy="198.85" r="0.6" fill="#e0180a"/><circle cx="665.77" cy="198.42" r="0.6" fill="#e0180a"/><circle cx="667" cy="198" r="0.85" fill="#f39a2c"/><circle cx="675.31" cy="201.9" r="0.6" fill="#e0180a"/><circle cx="677.3" cy="202.96" r="0.6" fill="#e0180a"/><circle cx="675.39" cy="204.15" r="0.6" fill="#e0180a"/><circle cx="676" cy="203" r="0.85" fill="#f39a2c"/><circle cx="684.69" cy="198.9" r="0.6" fill="#e0180a"/><circle cx="684.61" cy="201.15" r="0.6" fill="#e0180a"/><circle cx="682.7" cy="199.96" r="0.6" fill="#e0180a"/><circle cx="684" cy="200" r="0.85" fill="#f39a2c"/><circle cx="659.79" cy="205.48" r="0.6" fill="#e0180a"/><circle cx="661.18" cy="203.71" r="0.6" fill="#e0180a"/><circle cx="662.02" cy="205.8" r="0.6" fill="#e0180a"/><circle cx="661" cy="205" r="0.85" fill="#f39a2c"/>
<polygon points="639.8,251.5 694.7,253.4 694.7,256.8 683.3,271.1 628.8,268.2 628.8,263.8" fill="#c06410"/>
<path d="M632.21 264.98L643.23 252.22 M636.75 265.22L647.81 252.38 M641.29 265.46L652.38 252.54 M645.83 265.71L656.96 252.69 M650.37 265.95L661.53 252.85 M654.91 266.19L666.11 253.01 M659.46 266.43L670.68 253.17 M664 266.67L675.26 253.33 M668.54 266.91L679.83 253.49 M673.08 267.16L684.41 253.64 M677.62 267.4L688.98 253.8 M682.16 267.64L693.56 253.96" stroke="#f28c24" stroke-width="1.61" stroke-linecap="round" fill="none"/>
<path d="M629.94 264.86L640.94 252.14 M634.48 265.1L645.52 252.3 M639.02 265.34L650.09 252.46 M643.56 265.59L654.67 252.61 M648.1 265.83L659.24 252.77 M652.64 266.07L663.82 252.93 M657.19 266.31L668.39 253.09 M661.73 266.55L672.97 253.25 M666.27 266.79L677.54 253.41 M670.81 267.04L682.12 253.56 M675.35 267.28L686.69 253.72 M679.89 267.52L691.27 253.88" stroke="#ffaa44" stroke-width="1.7" stroke-linecap="round" fill="none"/>
<circle cx="629.94" cy="265.26" r="1.4" fill="url(#grodo)" stroke="#a65a0c" stroke-width="0.3"/><circle cx="632.21" cy="267.26" r="1.43" fill="url(#grodo)" stroke="#a65a0c" stroke-width="0.3"/><circle cx="634.48" cy="265.5" r="1.4" fill="url(#grodo)" stroke="#a65a0c" stroke-width="0.3"/><circle cx="636.75" cy="267.5" r="1.43" fill="url(#grodo)" stroke="#a65a0c" stroke-width="0.3"/><circle cx="639.02" cy="265.74" r="1.4" fill="url(#grodo)" stroke="#a65a0c" stroke-width="0.3"/><circle cx="641.29" cy="267.74" r="1.43" fill="url(#grodo)" stroke="#a65a0c" stroke-width="0.3"/><circle cx="643.56" cy="265.99" r="1.4" fill="url(#grodo)" stroke="#a65a0c" stroke-width="0.3"/><circle cx="645.83" cy="267.99" r="1.43" fill="url(#grodo)" stroke="#a65a0c" stroke-width="0.3"/><circle cx="648.1" cy="266.23" r="1.4" fill="url(#grodo)" stroke="#a65a0c" stroke-width="0.3"/><circle cx="650.37" cy="268.23" r="1.43" fill="url(#grodo)" stroke="#a65a0c" stroke-width="0.3"/><circle cx="652.64" cy="266.47" r="1.4" fill="url(#grodo)" stroke="#a65a0c" stroke-width="0.3"/><circle cx="654.91" cy="268.47" r="1.43" fill="url(#grodo)" stroke="#a65a0c" stroke-width="0.3"/><circle cx="657.19" cy="266.71" r="1.4" fill="url(#grodo)" stroke="#a65a0c" stroke-width="0.3"/><circle cx="659.46" cy="268.71" r="1.43" fill="url(#grodo)" stroke="#a65a0c" stroke-width="0.3"/><circle cx="661.73" cy="266.95" r="1.4" fill="url(#grodo)" stroke="#a65a0c" stroke-width="0.3"/><circle cx="664" cy="268.95" r="1.43" fill="url(#grodo)" stroke="#a65a0c" stroke-width="0.3"/><circle cx="666.27" cy="267.19" r="1.4" fill="url(#grodo)" stroke="#a65a0c" stroke-width="0.3"/><circle cx="668.54" cy="269.19" r="1.43" fill="url(#grodo)" stroke="#a65a0c" stroke-width="0.3"/><circle cx="670.81" cy="267.44" r="1.4" fill="url(#grodo)" stroke="#a65a0c" stroke-width="0.3"/><circle cx="673.08" cy="269.44" r="1.43" fill="url(#grodo)" stroke="#a65a0c" stroke-width="0.3"/><circle cx="675.35" cy="267.68" r="1.4" fill="url(#grodo)" stroke="#a65a0c" stroke-width="0.3"/><circle cx="677.62" cy="269.68" r="1.43" fill="url(#grodo)" stroke="#a65a0c" stroke-width="0.3"/><circle cx="679.89" cy="267.92" r="1.4" fill="url(#grodo)" stroke="#a65a0c" stroke-width="0.3"/><circle cx="682.16" cy="269.92" r="1.43" fill="url(#grodo)" stroke="#a65a0c" stroke-width="0.3"/>
<polygon points="656.8,233 677.7,233 686,250 675,262 652,258 645,248" fill="url(#psph2)" />
<path d="M652 272.3 L648.9 283.7 M675.8 272 L679.5 283" stroke="#222" stroke-width="0.8"/>
<text x="636.6" y="290" font-size="8" fill="#222">0.18</text>
<text x="670" y="292.4" font-size="7.8" fill="#222">6 x 10<tspan font-size="5" dy="-3.4">-3</tspan></text>
<rect x="672" y="293.4" width="22" height="0.9" fill="#111"/>
<path d="M574.5 192.7 V182.7 H642.5" stroke="#555" stroke-width="0.8" fill="none"/>
<path d="M535.5 199.5 Q535.5 196.5 538.5 196.5 H572 Q574.5 196.5 574.5 193 Q574.5 196.5 577 196.5 H607.5 Q610.5 196.5 610.5 199.5" stroke="#333" stroke-width="0.8" fill="none"/>
<text transform="translate(542.5 304) rotate(-19) scale(0.8 1)" text-anchor="end" font-size="9.2" fill="#333">1cFe-Pt/SiO<tspan font-size="5.4" dy="1.4">2</tspan></text>
<text transform="translate(579 302) rotate(-19) scale(0.8 1)" text-anchor="end" font-size="9.2" fill="#333">2cFe-Pt/SiO<tspan font-size="5.4" dy="1.4">2</tspan></text>
<text transform="translate(617.5 301) rotate(-19) scale(0.8 1)" text-anchor="end" font-size="9.2" fill="#333">3cFe-Pt/SiO<tspan font-size="5.4" dy="1.4">2</tspan></text>
<text transform="translate(654 300.5) rotate(-19) scale(0.8 1)" text-anchor="end" font-size="9.2" fill="#333">Pt/Fe<tspan font-size="5.4" dy="1.4">2</tspan><tspan dy="-1.4">O</tspan><tspan font-size="5.4" dy="1.4">3</tspan></text>
<text transform="translate(690.5 300) rotate(-19) scale(0.8 1)" text-anchor="end" font-size="9.2" fill="#333">Pt/SiO<tspan font-size="5.4" dy="1.4">2</tspan></text>
<text transform="translate(497 233) rotate(-90)" text-anchor="middle" font-size="7.8" font-weight="bold" fill="#111">Specific rate (mol<tspan font-size="5.2" dy="1.8">CO</tspan><tspan dy="-1.8"> h</tspan><tspan font-size="5.2" dy="-3">-1</tspan><tspan dy="3"> g</tspan><tspan font-size="5.2" dy="1.8">Pt</tspan><tspan font-size="5.2" dy="-4.8">-1</tspan><tspan dy="3">)</tspan></text>
</svg>
</body></html>
